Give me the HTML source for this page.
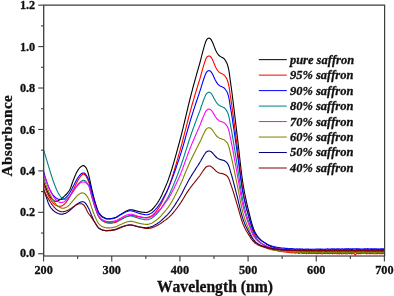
<!DOCTYPE html>
<html><head><meta charset="utf-8"><title>Absorbance vs Wavelength</title>
<style>
html,body{margin:0;padding:0;background:#fff;}
body{width:394px;height:296px;overflow:hidden;}
svg{display:block;font-family:"Liberation Serif","Times New Roman",serif;font-weight:bold;font-kerning:none;}
.curves path{fill:none;stroke-width:1.1;stroke-linejoin:round;}
.axes line{stroke:#3c3c3c;stroke-width:1.1;}
.tl text{font-size:12.25px;fill:#111;stroke:#111;stroke-width:0.3;}
.leg text{font-size:12.5px;font-style:italic;fill:#111;stroke:#111;stroke-width:0.3;}
.ttl{font-size:15.65px;fill:#111;stroke:#111;stroke-width:0.3;}
</style></head><body>
<svg width="394" height="296" viewBox="0 0 394 296">
<rect width="394" height="296" fill="#fff"/>
<g class="curves">
<path d="M43.6,182.0 L44.1,183.3 L44.6,184.6 L45.1,185.8 L45.6,187.0 L46.1,188.2 L46.6,189.5 L47.1,190.7 L47.6,191.9 L48.1,193.0 L48.6,194.1 L49.1,195.0 L49.6,195.8 L50.1,196.6 L50.6,197.4 L51.1,198.0 L51.6,198.6 L52.1,199.1 L52.6,199.5 L53.1,200.0 L53.6,200.4 L54.1,200.7 L54.6,201.0 L55.1,201.2 L55.6,201.3 L56.1,201.3 L56.6,201.2 L57.1,201.1 L57.6,200.9 L58.1,200.7 L58.6,200.5 L59.1,200.2 L59.6,199.9 L60.1,199.6 L60.6,199.3 L61.1,199.0 L61.6,198.6 L62.1,198.2 L62.6,197.7 L63.1,197.3 L63.6,196.8 L64.1,196.4 L64.6,195.9 L65.1,195.5 L65.6,195.0 L66.1,194.5 L66.6,194.0 L67.1,193.4 L67.6,192.8 L68.1,192.2 L68.6,191.5 L69.1,190.8 L69.6,190.0 L70.1,189.0 L70.6,187.8 L71.1,186.5 L71.6,185.0 L72.1,183.5 L72.6,182.1 L73.1,180.7 L73.6,179.5 L74.1,178.3 L74.6,177.0 L75.1,175.8 L75.6,174.7 L76.1,173.5 L76.6,172.5 L77.1,171.6 L77.6,170.7 L78.1,169.9 L78.6,169.2 L79.1,168.5 L79.6,167.9 L80.1,167.4 L80.6,167.0 L81.1,166.6 L81.6,166.2 L82.1,166.0 L82.6,165.8 L83.1,165.6 L83.6,165.6 L84.1,165.8 L84.6,166.2 L85.1,166.6 L85.6,167.2 L86.1,167.8 L86.6,168.7 L87.1,169.9 L87.6,171.3 L88.1,172.8 L88.6,174.7 L89.1,176.8 L89.6,179.0 L90.1,181.2 L90.6,183.5 L91.1,185.9 L91.6,188.2 L92.1,190.4 L92.6,192.5 L93.1,194.6 L93.6,196.6 L94.1,198.5 L94.6,200.3 L95.1,202.0 L95.6,203.6 L96.1,205.2 L96.6,206.8 L97.1,208.3 L97.6,209.7 L98.1,211.0 L98.6,212.1 L99.1,213.0 L99.6,213.6 L100.1,214.3 L100.6,214.9 L101.1,215.5 L101.6,216.0 L102.1,216.4 L102.6,216.8 L103.1,217.1 L103.6,217.3 L104.1,217.6 L104.6,217.8 L105.1,218.1 L105.6,218.3 L106.1,218.5 L106.6,218.6 L107.1,218.7 L107.6,218.7 L108.1,218.7 L108.6,218.7 L109.1,218.7 L109.6,218.7 L110.1,218.6 L110.6,218.6 L111.1,218.6 L111.6,218.5 L112.1,218.4 L112.6,218.3 L113.1,218.2 L113.6,218.1 L114.1,218.0 L114.6,217.8 L115.1,217.6 L115.6,217.5 L116.1,217.2 L116.6,217.0 L117.1,216.7 L117.6,216.4 L118.1,216.0 L118.6,215.7 L119.1,215.4 L119.6,215.0 L120.1,214.7 L120.6,214.4 L121.1,214.1 L121.6,213.8 L122.1,213.5 L122.6,213.2 L123.1,212.9 L123.6,212.6 L124.1,212.3 L124.6,212.0 L125.1,211.7 L125.6,211.4 L126.1,211.1 L126.6,210.9 L127.1,210.7 L127.6,210.5 L128.1,210.3 L128.6,210.1 L129.1,210.0 L129.6,209.8 L130.1,209.7 L130.6,209.7 L131.1,209.7 L131.6,209.8 L132.1,209.8 L132.6,209.9 L133.1,210.0 L133.6,210.1 L134.1,210.2 L134.6,210.4 L135.1,210.5 L135.6,210.7 L136.1,210.8 L136.6,211.0 L137.1,211.1 L137.6,211.3 L138.1,211.4 L138.6,211.5 L139.1,211.6 L139.6,211.7 L140.1,211.8 L140.6,211.9 L141.1,212.0 L141.6,212.1 L142.1,212.2 L142.6,212.2 L143.1,212.3 L143.6,212.3 L144.1,212.4 L144.6,212.4 L145.1,212.5 L145.6,212.5 L146.1,212.5 L146.6,212.5 L147.1,212.4 L147.6,212.2 L148.1,212.0 L148.6,211.8 L149.1,211.5 L149.6,211.2 L150.1,210.9 L150.6,210.7 L151.1,210.3 L151.6,210.0 L152.1,209.5 L152.6,209.0 L153.1,208.5 L153.6,207.9 L154.1,207.3 L154.6,206.7 L155.1,206.1 L155.6,205.5 L156.1,204.9 L156.6,204.2 L157.1,203.4 L157.6,202.7 L158.1,201.9 L158.6,201.1 L159.1,200.2 L159.6,199.4 L160.1,198.5 L160.6,197.5 L161.1,196.5 L161.6,195.5 L162.1,194.4 L162.6,193.3 L163.1,192.1 L163.6,191.0 L164.1,189.9 L164.6,188.8 L165.1,187.6 L165.6,186.5 L166.1,185.3 L166.6,184.1 L167.1,182.9 L167.6,181.6 L168.1,180.3 L168.6,178.9 L169.1,177.4 L169.6,176.0 L170.1,174.5 L170.6,172.9 L171.1,171.4 L171.6,169.8 L172.1,168.1 L172.6,166.5 L173.1,164.8 L173.6,163.1 L174.1,161.4 L174.6,159.7 L175.1,157.9 L175.6,156.1 L176.1,154.3 L176.6,152.5 L177.1,150.7 L177.6,148.9 L178.1,147.0 L178.6,145.2 L179.1,143.3 L179.6,141.5 L180.1,139.6 L180.6,137.7 L181.1,135.8 L181.6,133.8 L182.1,131.8 L182.6,129.8 L183.1,127.8 L183.6,125.7 L184.1,123.6 L184.6,121.5 L185.1,119.4 L185.6,117.3 L186.1,115.2 L186.6,113.1 L187.1,110.9 L187.6,108.8 L188.1,106.7 L188.6,104.7 L189.1,102.6 L189.6,100.6 L190.1,98.5 L190.6,96.6 L191.1,94.6 L191.6,92.7 L192.1,90.8 L192.6,88.9 L193.1,87.0 L193.6,85.2 L194.1,83.3 L194.6,81.5 L195.1,79.7 L195.6,77.9 L196.1,76.1 L196.6,74.3 L197.1,72.5 L197.6,70.8 L198.1,69.1 L198.6,67.3 L199.1,65.6 L199.6,63.8 L200.1,62.0 L200.6,60.1 L201.1,58.1 L201.6,56.2 L202.1,54.2 L202.6,52.3 L203.1,50.4 L203.6,48.6 L204.1,46.9 L204.6,45.2 L205.1,43.6 L205.6,42.0 L206.1,40.8 L206.6,39.9 L207.1,39.2 L207.6,38.7 L208.1,38.4 L208.6,38.2 L209.1,38.1 L209.6,38.3 L210.1,38.5 L210.6,39.0 L211.1,39.6 L211.6,40.4 L212.1,41.4 L212.6,42.5 L213.1,43.7 L213.6,44.9 L214.1,46.3 L214.6,47.6 L215.1,48.8 L215.6,50.0 L216.1,51.1 L216.6,52.1 L217.1,53.0 L217.6,53.7 L218.1,54.4 L218.6,55.0 L219.1,55.5 L219.6,56.0 L220.1,56.3 L220.6,56.6 L221.1,56.9 L221.6,57.2 L222.1,57.4 L222.6,57.7 L223.1,58.0 L223.6,58.3 L224.1,58.7 L224.6,59.2 L225.1,60.0 L225.6,60.9 L226.1,61.7 L226.6,62.6 L227.1,63.7 L227.6,65.1 L228.1,66.9 L228.6,69.1 L229.1,71.7 L229.6,75.3 L230.1,79.3 L230.6,82.9 L231.1,86.4 L231.6,90.0 L232.1,93.8 L232.6,97.7 L233.1,101.8 L233.6,105.8 L234.1,109.9 L234.6,114.0 L235.1,118.2 L235.6,122.3 L236.1,126.5 L236.6,130.7 L237.1,134.9 L237.6,139.2 L238.1,143.4 L238.6,147.8 L239.1,152.3 L239.6,156.8 L240.1,161.3 L240.6,165.7 L241.1,170.0 L241.6,174.0 L242.1,177.9 L242.6,181.4 L243.1,184.6 L243.6,187.6 L244.1,190.4 L244.6,193.0 L245.1,195.5 L245.6,197.9 L246.1,200.2 L246.6,202.5 L247.1,204.7 L247.6,206.9 L248.1,208.9 L248.6,211.0 L249.1,213.0 L249.6,215.0 L250.1,217.0 L250.6,219.0 L251.1,221.0 L251.6,222.8 L252.1,224.4 L252.6,226.0 L253.1,227.5 L253.6,228.9 L254.1,230.1 L254.6,231.2 L255.1,232.2 L255.6,233.1 L256.1,234.0 L256.6,234.8 L257.1,235.6 L257.6,236.3 L258.1,236.9 L258.6,237.5 L259.1,238.1 L259.6,238.7 L260.1,239.2 L260.6,239.7 L261.1,240.1 L261.6,240.6 L262.1,241.0 L262.6,241.3 L263.1,241.7 L263.6,242.1 L264.1,242.4 L264.6,242.8 L265.1,243.1 L265.6,243.5 L266.1,243.8 L266.6,244.2 L267.1,244.5 L267.6,244.8 L268.1,245.1 L268.6,245.4 L269.1,245.6 L269.6,245.9 L270.1,246.1 L270.6,246.4 L271.1,246.5 L271.6,246.7 L272.1,246.9 L272.6,247.1 L273.1,247.3 L273.6,247.4 L274.1,247.6 L274.6,247.8 L275.1,247.9 L275.6,248.0 L276.1,248.0 L276.6,248.2 L277.1,248.3 L277.6,248.4 L278.1,248.5 L278.6,248.6 L279.1,248.7 L279.6,249.0 L280.1,249.0 L280.6,249.1 L281.1,249.0 L281.6,249.1 L282.1,249.2 L282.6,249.3 L283.1,249.3 L283.6,249.7 L284.1,249.7 L284.6,249.6 L285.1,249.7 L285.6,250.0 L286.1,249.9 L286.6,249.9 L287.1,250.0 L287.6,250.0 L288.1,250.2 L288.6,250.3 L289.1,250.2 L289.6,250.4 L290.1,250.1 L290.6,250.4 L291.1,250.6 L291.6,250.2 L292.1,250.5 L292.6,250.6 L293.1,250.4 L293.6,250.8 L294.1,250.6 L294.6,250.6 L295.1,250.9 L295.6,250.5 L296.1,250.9 L296.6,250.6 L297.1,250.7 L297.6,250.8 L298.1,250.8 L298.6,250.6 L299.1,250.8 L299.6,250.8 L300.1,251.1 L300.6,251.1 L301.1,251.0 L301.6,251.2 L302.1,251.1 L302.6,250.9 L303.1,250.8 L303.6,251.1 L304.1,250.9 L304.6,250.8 L305.1,251.3 L305.6,251.3 L306.1,251.1 L306.6,251.2 L307.1,251.2 L307.6,251.4 L308.1,251.1 L308.6,251.2 L309.1,251.0 L309.6,251.1 L310.1,251.2 L310.6,251.1 L311.1,251.0 L311.6,251.2 L312.1,251.4 L312.6,251.2 L313.1,251.5 L313.6,251.4 L314.1,251.4 L314.6,251.5 L315.1,251.1 L315.6,251.1 L316.1,251.5 L316.6,251.5 L317.1,251.1 L317.6,251.4 L318.1,251.1 L318.6,251.1 L319.1,251.1 L319.6,251.2 L320.1,251.3 L320.6,251.5 L321.1,251.3 L321.6,251.1 L322.1,251.2 L322.6,251.1 L323.1,251.1 L323.6,251.3 L324.1,251.3 L324.6,251.2 L325.1,251.3 L325.6,251.1 L326.1,251.4 L326.6,251.3 L327.1,251.2 L327.6,251.3 L328.1,251.2 L328.6,251.2 L329.1,251.2 L329.6,251.5 L330.1,251.2 L330.6,251.6 L331.1,251.3 L331.6,251.2 L332.1,251.5 L332.6,251.5 L333.1,251.6 L333.6,251.2 L334.1,251.5 L334.6,251.6 L335.1,251.3 L335.6,251.4 L336.1,251.4 L336.6,251.3 L337.1,251.6 L337.6,251.5 L338.1,251.6 L338.6,251.4 L339.1,251.4 L339.6,251.2 L340.1,251.3 L340.6,251.5 L341.1,251.6 L341.6,251.2 L342.1,251.2 L342.6,251.2 L343.1,251.4 L343.6,251.5 L344.1,251.3 L344.6,251.4 L345.1,251.4 L345.6,251.6 L346.1,251.2 L346.6,251.2 L347.1,251.4 L347.6,251.3 L348.1,251.3 L348.6,251.5 L349.1,251.5 L349.6,251.2 L350.1,251.4 L350.6,251.5 L351.1,251.6 L351.6,251.2 L352.1,251.6 L352.6,251.2 L353.1,251.5 L353.6,251.5 L354.1,251.6 L354.6,252.0 L355.1,252.5 L355.6,252.3 L356.1,251.3 L356.6,251.6 L357.1,251.2 L357.6,251.3 L358.1,251.5 L358.6,251.2 L359.1,251.5 L359.6,251.5 L360.1,251.5 L360.6,251.6 L361.1,251.4 L361.6,251.2 L362.1,251.3 L362.6,251.3 L363.1,251.2 L363.6,251.5 L364.1,251.2 L364.6,251.2 L365.1,251.6 L365.6,251.6 L366.1,251.3 L366.6,251.3 L367.1,251.6 L367.6,251.5 L368.1,251.3 L368.6,251.4 L369.1,251.6 L369.6,251.2 L370.1,251.7 L370.6,251.4 L371.1,251.2 L371.6,251.6 L372.1,251.2 L372.6,251.4 L373.1,251.4 L373.6,251.3 L374.1,251.6 L374.6,251.5 L375.1,251.2 L375.6,251.2 L376.1,251.2 L376.6,251.4 L377.1,251.2 L377.6,251.4 L378.1,251.6 L378.6,251.6 L379.1,251.2 L379.6,251.3 L380.1,251.4 L380.6,251.3 L381.1,251.4 L381.6,251.4 L382.1,251.5 L382.6,251.3 L383.1,251.3 L383.6,251.3 L384.1,251.2" stroke="#000000"/>
<path d="M43.6,184.4 L44.1,185.7 L44.6,187.0 L45.1,188.3 L45.6,189.5 L46.1,190.7 L46.6,191.8 L47.1,192.9 L47.6,194.0 L48.1,195.0 L48.6,195.9 L49.1,196.9 L49.6,197.8 L50.1,198.6 L50.6,199.4 L51.1,200.2 L51.6,200.9 L52.1,201.6 L52.6,202.2 L53.1,202.8 L53.6,203.3 L54.1,203.8 L54.6,204.3 L55.1,204.7 L55.6,205.1 L56.1,205.4 L56.6,205.6 L57.1,205.9 L57.6,206.1 L58.1,206.2 L58.6,206.3 L59.1,206.4 L59.6,206.4 L60.1,206.3 L60.6,206.2 L61.1,206.1 L61.6,206.0 L62.1,205.8 L62.6,205.5 L63.1,205.1 L63.6,204.8 L64.1,204.4 L64.6,204.0 L65.1,203.4 L65.6,202.9 L66.1,202.3 L66.6,201.7 L67.1,201.0 L67.6,200.2 L68.1,199.4 L68.6,198.6 L69.1,197.8 L69.6,196.9 L70.1,196.0 L70.6,195.0 L71.1,194.1 L71.6,193.1 L72.1,192.1 L72.6,191.1 L73.1,190.1 L73.6,189.1 L74.1,188.0 L74.6,187.0 L75.1,186.0 L75.6,184.9 L76.1,184.0 L76.6,183.0 L77.1,182.0 L77.6,181.0 L78.1,180.1 L78.6,179.3 L79.1,178.5 L79.6,177.7 L80.1,177.0 L80.6,176.3 L81.1,175.7 L81.6,175.3 L82.1,174.8 L82.6,174.5 L83.1,174.3 L83.6,174.2 L84.1,174.3 L84.6,174.5 L85.1,175.0 L85.6,175.6 L86.1,176.3 L86.6,177.2 L87.1,178.2 L87.6,179.3 L88.1,180.5 L88.6,181.7 L89.1,183.0 L89.6,185.2 L90.1,187.3 L90.6,189.5 L91.1,191.7 L91.6,193.9 L92.1,196.0 L92.6,197.9 L93.1,199.9 L93.6,201.7 L94.1,203.5 L94.6,205.2 L95.1,206.8 L95.6,208.3 L96.1,209.9 L96.6,211.3 L97.1,212.8 L97.6,214.1 L98.1,215.3 L98.6,216.3 L99.1,217.1 L99.6,217.8 L100.1,218.5 L100.6,219.0 L101.1,219.6 L101.6,220.1 L102.1,220.5 L102.6,220.9 L103.1,221.2 L103.6,221.5 L104.1,221.7 L104.6,222.0 L105.1,222.2 L105.6,222.5 L106.1,222.7 L106.6,222.8 L107.1,222.9 L107.6,223.0 L108.1,223.0 L108.6,223.1 L109.1,223.1 L109.6,223.1 L110.1,223.1 L110.6,223.1 L111.1,223.1 L111.6,223.1 L112.1,223.0 L112.6,223.0 L113.1,222.9 L113.6,222.8 L114.1,222.7 L114.6,222.6 L115.1,222.5 L115.6,222.3 L116.1,222.2 L116.6,222.0 L117.1,221.7 L117.6,221.5 L118.1,221.2 L118.6,220.9 L119.1,220.6 L119.6,220.3 L120.1,220.1 L120.6,219.8 L121.1,219.5 L121.6,219.3 L122.1,219.0 L122.6,218.7 L123.1,218.4 L123.6,218.2 L124.1,217.9 L124.6,217.6 L125.1,217.4 L125.6,217.1 L126.1,216.9 L126.6,216.6 L127.1,216.4 L127.6,216.2 L128.1,216.1 L128.6,215.9 L129.1,215.7 L129.6,215.6 L130.1,215.5 L130.6,215.5 L131.1,215.4 L131.6,215.5 L132.1,215.5 L132.6,215.6 L133.1,215.6 L133.6,215.7 L134.1,215.8 L134.6,215.9 L135.1,216.0 L135.6,216.1 L136.1,216.2 L136.6,216.4 L137.1,216.5 L137.6,216.6 L138.1,216.7 L138.6,216.8 L139.1,216.8 L139.6,216.9 L140.1,217.0 L140.6,217.1 L141.1,217.2 L141.6,217.2 L142.1,217.3 L142.6,217.3 L143.1,217.4 L143.6,217.5 L144.1,217.5 L144.6,217.5 L145.1,217.6 L145.6,217.6 L146.1,217.6 L146.6,217.6 L147.1,217.5 L147.6,217.4 L148.1,217.3 L148.6,217.1 L149.1,216.9 L149.6,216.7 L150.1,216.4 L150.6,216.2 L151.1,216.0 L151.6,215.7 L152.1,215.4 L152.6,215.0 L153.1,214.6 L153.6,214.1 L154.1,213.6 L154.6,213.1 L155.1,212.6 L155.6,212.0 L156.1,211.4 L156.6,210.8 L157.1,210.2 L157.6,209.5 L158.1,208.8 L158.6,208.1 L159.1,207.3 L159.6,206.5 L160.1,205.7 L160.6,204.8 L161.1,203.9 L161.6,203.0 L162.1,202.0 L162.6,200.9 L163.1,199.9 L163.6,198.9 L164.1,197.8 L164.6,196.8 L165.1,195.7 L165.6,194.6 L166.1,193.5 L166.6,192.4 L167.1,191.3 L167.6,190.0 L168.1,188.8 L168.6,187.5 L169.1,186.1 L169.6,184.7 L170.1,183.3 L170.6,181.8 L171.1,180.3 L171.6,178.8 L172.1,177.3 L172.6,175.7 L173.1,174.1 L173.6,172.5 L174.1,170.9 L174.6,169.2 L175.1,167.5 L175.6,165.8 L176.1,164.1 L176.6,162.4 L177.1,160.7 L177.6,158.9 L178.1,157.2 L178.6,155.4 L179.1,153.7 L179.6,151.9 L180.1,150.1 L180.6,148.3 L181.1,146.5 L181.6,144.7 L182.1,142.8 L182.6,140.9 L183.1,139.0 L183.6,137.1 L184.1,135.1 L184.6,133.2 L185.1,131.3 L185.6,129.3 L186.1,127.3 L186.6,125.4 L187.1,123.4 L187.6,121.5 L188.1,119.5 L188.6,117.6 L189.1,115.7 L189.6,113.8 L190.1,111.9 L190.6,110.1 L191.1,108.3 L191.6,106.5 L192.1,104.7 L192.6,103.0 L193.1,101.3 L193.6,99.6 L194.1,97.9 L194.6,96.2 L195.1,94.5 L195.6,92.8 L196.1,91.1 L196.6,89.5 L197.1,87.8 L197.6,86.2 L198.1,84.6 L198.6,83.0 L199.1,81.4 L199.6,79.8 L200.1,78.1 L200.6,76.3 L201.1,74.5 L201.6,72.7 L202.1,70.9 L202.6,69.1 L203.1,67.4 L203.6,65.7 L204.1,64.1 L204.6,62.5 L205.1,61.0 L205.6,59.6 L206.1,58.5 L206.6,57.6 L207.1,56.9 L207.6,56.5 L208.1,56.2 L208.6,56.0 L209.1,56.0 L209.6,56.1 L210.1,56.3 L210.6,56.7 L211.1,57.3 L211.6,58.1 L212.1,59.0 L212.6,60.0 L213.1,61.1 L213.6,62.3 L214.1,63.5 L214.6,64.7 L215.1,65.9 L215.6,67.0 L216.1,68.0 L216.6,68.9 L217.1,69.7 L217.6,70.4 L218.1,71.0 L218.6,71.6 L219.1,72.1 L219.6,72.5 L220.1,72.8 L220.6,73.1 L221.1,73.4 L221.6,73.6 L222.1,73.8 L222.6,74.1 L223.1,74.4 L223.6,74.7 L224.1,75.1 L224.6,75.5 L225.1,76.2 L225.6,77.0 L226.1,77.8 L226.6,78.6 L227.1,79.6 L227.6,81.0 L228.1,82.6 L228.6,84.7 L229.1,87.2 L229.6,90.4 L230.1,94.1 L230.6,97.4 L231.1,100.7 L231.6,104.0 L232.1,107.5 L232.6,111.2 L233.1,114.9 L233.6,118.7 L234.1,122.4 L234.6,126.3 L235.1,130.1 L235.6,134.0 L236.1,137.8 L236.6,141.7 L237.1,145.6 L237.6,149.5 L238.1,153.5 L238.6,157.6 L239.1,161.7 L239.6,165.9 L240.1,170.1 L240.6,174.2 L241.1,178.1 L241.6,181.9 L242.1,185.4 L242.6,188.6 L243.1,191.6 L243.6,194.4 L244.1,197.0 L244.6,199.4 L245.1,201.7 L245.6,204.0 L246.1,206.1 L246.6,208.2 L247.1,210.3 L247.6,212.2 L248.1,214.2 L248.6,216.1 L249.1,218.0 L249.6,219.8 L250.1,221.7 L250.6,223.5 L251.1,225.3 L251.6,227.0 L252.1,228.5 L252.6,230.0 L253.1,231.4 L253.6,232.6 L254.1,233.8 L254.6,234.8 L255.1,235.7 L255.6,236.6 L256.1,237.4 L256.6,238.2 L257.1,238.9 L257.6,239.5 L258.1,240.1 L258.6,240.7 L259.1,241.2 L259.6,241.7 L260.1,242.2 L260.6,242.7 L261.1,243.1 L261.6,243.5 L262.1,243.8 L262.6,244.2 L263.1,244.5 L263.6,244.9 L264.1,245.2 L264.6,245.5 L265.1,245.9 L265.6,246.2 L266.1,246.5 L266.6,246.8 L267.1,247.1 L267.6,247.4 L268.1,247.7 L268.6,248.0 L269.1,248.2 L269.6,248.5 L270.1,248.7 L270.6,248.8 L271.1,248.9 L271.6,249.2 L272.1,249.4 L272.6,249.4 L273.1,249.8 L273.6,249.9 L274.1,249.9 L274.6,250.1 L275.1,250.2 L275.6,250.2 L276.1,250.4 L276.6,250.5 L277.1,250.5 L277.6,250.6 L278.1,251.0 L278.6,251.1 L279.1,251.2 L279.6,251.0 L280.1,251.3 L280.6,251.1 L281.1,251.6 L281.6,251.2 L282.1,251.6 L282.6,251.4 L283.1,251.8 L283.6,251.5 L284.1,252.0 L284.6,252.0 L285.1,252.0 L285.6,251.9 L286.1,252.1 L286.6,252.4 L287.1,252.1 L287.6,252.0 L288.1,252.5 L288.6,252.5 L289.1,252.5 L289.6,252.5 L290.1,252.2 L290.6,252.7 L291.1,252.7 L291.6,252.9 L292.1,252.7 L292.6,252.8 L293.1,252.6 L293.6,252.6 L294.1,252.7 L294.6,252.8 L295.1,253.3 L295.6,252.7 L296.1,252.6 L296.6,252.6 L297.1,253.2 L297.6,252.6 L298.1,252.6 L298.6,253.4 L299.1,253.4 L299.6,253.3 L300.1,252.8 L300.6,252.8 L301.1,253.2 L301.6,252.7 L302.1,253.1 L302.6,253.5 L303.1,253.2 L303.6,253.0 L304.1,253.5 L304.6,252.8 L305.1,253.3 L305.6,253.3 L306.1,253.6 L306.6,253.6 L307.1,253.0 L307.6,253.2 L308.1,253.1 L308.6,253.6 L309.1,253.3 L309.6,253.5 L310.1,253.0 L310.6,253.2 L311.1,253.6 L311.6,252.9 L312.1,253.2 L312.6,253.0 L313.1,253.6 L313.6,253.0 L314.1,253.1 L314.6,253.4 L315.1,253.6 L315.6,253.2 L316.1,253.7 L316.6,253.8 L317.1,253.7 L317.6,253.0 L318.1,253.6 L318.6,253.3 L319.1,253.6 L319.6,253.4 L320.1,253.6 L320.6,253.2 L321.1,253.7 L321.6,253.7 L322.1,253.8 L322.6,253.9 L323.1,253.4 L323.6,253.4 L324.1,253.4 L324.6,253.2 L325.1,253.5 L325.6,253.7 L326.1,253.0 L326.6,253.2 L327.1,253.5 L327.6,253.6 L328.1,253.4 L328.6,253.5 L329.1,253.7 L329.6,253.8 L330.1,253.3 L330.6,253.5 L331.1,253.4 L331.6,253.2 L332.1,253.3 L332.6,253.9 L333.1,253.3 L333.6,253.1 L334.1,253.5 L334.6,253.7 L335.1,253.3 L335.6,253.1 L336.1,253.5 L336.6,253.8 L337.1,253.7 L337.6,253.4 L338.1,253.8 L338.6,253.7 L339.1,253.3 L339.6,253.9 L340.1,253.4 L340.6,253.4 L341.1,253.3 L341.6,253.9 L342.1,253.7 L342.6,253.7 L343.1,253.6 L343.6,253.7 L344.1,253.1 L344.6,253.4 L345.1,253.8 L345.6,253.9 L346.1,253.5 L346.6,253.7 L347.1,253.9 L347.6,253.6 L348.1,253.6 L348.6,253.4 L349.1,253.3 L349.6,253.7 L350.1,253.5 L350.6,253.1 L351.1,253.3 L351.6,253.9 L352.1,253.7 L352.6,253.6 L353.1,253.3 L353.6,253.1 L354.1,253.7 L354.6,254.1 L355.1,255.9 L355.6,255.2 L356.1,253.8 L356.6,253.4 L357.1,253.4 L357.6,253.4 L358.1,253.7 L358.6,253.5 L359.1,253.8 L359.6,253.4 L360.1,253.4 L360.6,253.7 L361.1,253.6 L361.6,253.1 L362.1,253.4 L362.6,253.3 L363.1,253.1 L363.6,253.1 L364.1,253.5 L364.6,253.2 L365.1,253.3 L365.6,253.2 L366.1,253.5 L366.6,253.9 L367.1,253.4 L367.6,253.2 L368.1,253.6 L368.6,253.1 L369.1,253.1 L369.6,253.7 L370.1,253.6 L370.6,253.6 L371.1,253.4 L371.6,253.3 L372.1,253.8 L372.6,253.6 L373.1,253.4 L373.6,253.7 L374.1,253.7 L374.6,253.7 L375.1,253.7 L375.6,253.8 L376.1,253.5 L376.6,253.6 L377.1,253.8 L377.6,253.6 L378.1,253.5 L378.6,253.2 L379.1,253.5 L379.6,253.7 L380.1,253.6 L380.6,253.8 L381.1,253.8 L381.6,253.4 L382.1,253.7 L382.6,253.1 L383.1,253.6 L383.6,253.1 L384.1,253.9" stroke="#ff0000"/>
<path d="M43.6,171.4 L44.1,173.2 L44.6,175.0 L45.1,176.8 L45.6,178.4 L46.1,180.0 L46.6,181.5 L47.1,182.9 L47.6,184.3 L48.1,185.6 L48.6,186.8 L49.1,187.9 L49.6,189.0 L50.1,190.1 L50.6,191.0 L51.1,191.9 L51.6,192.8 L52.1,193.6 L52.6,194.3 L53.1,195.0 L53.6,195.6 L54.1,196.2 L54.6,196.7 L55.1,197.2 L55.6,197.6 L56.1,198.0 L56.6,198.3 L57.1,198.6 L57.6,198.9 L58.1,199.1 L58.6,199.2 L59.1,199.3 L59.6,199.4 L60.1,199.4 L60.6,199.5 L61.1,199.5 L61.6,199.4 L62.1,199.3 L62.6,199.2 L63.1,199.0 L63.6,198.9 L64.1,198.7 L64.6,198.4 L65.1,198.1 L65.6,197.8 L66.1,197.4 L66.6,197.0 L67.1,196.4 L67.6,195.9 L68.1,195.2 L68.6,194.6 L69.1,193.8 L69.6,193.0 L70.1,192.2 L70.6,191.3 L71.1,190.4 L71.6,189.5 L72.1,188.6 L72.6,187.6 L73.1,186.6 L73.6,185.6 L74.1,184.7 L74.6,183.7 L75.1,182.7 L75.6,181.7 L76.1,180.8 L76.6,179.9 L77.1,179.0 L77.6,178.2 L78.1,177.4 L78.6,176.7 L79.1,176.0 L79.6,175.4 L80.1,174.8 L80.6,174.3 L81.1,173.8 L81.6,173.5 L82.1,173.2 L82.6,173.1 L83.1,173.0 L83.6,173.0 L84.1,173.1 L84.6,173.3 L85.1,173.7 L85.6,174.3 L86.1,174.9 L86.6,175.7 L87.1,176.5 L87.6,177.5 L88.1,178.5 L88.6,179.5 L89.1,180.7 L89.6,182.7 L90.1,184.7 L90.6,186.8 L91.1,188.9 L91.6,191.0 L92.1,193.0 L92.6,194.9 L93.1,196.8 L93.6,198.6 L94.1,200.4 L94.6,202.0 L95.1,203.6 L95.6,205.1 L96.1,206.6 L96.6,208.0 L97.1,209.5 L97.6,210.8 L98.1,212.0 L98.6,213.0 L99.1,213.8 L99.6,214.5 L100.1,215.0 L100.6,215.6 L101.1,216.1 L101.6,216.6 L102.1,217.0 L102.6,217.3 L103.1,217.6 L103.6,217.8 L104.1,218.0 L104.6,218.3 L105.1,218.5 L105.6,218.7 L106.1,218.8 L106.6,219.0 L107.1,219.0 L107.6,219.0 L108.1,219.0 L108.6,219.0 L109.1,219.0 L109.6,219.0 L110.1,218.9 L110.6,218.9 L111.1,218.8 L111.6,218.7 L112.1,218.7 L112.6,218.6 L113.1,218.5 L113.6,218.3 L114.1,218.2 L114.6,218.1 L115.1,217.9 L115.6,217.7 L116.1,217.5 L116.6,217.3 L117.1,217.0 L117.6,216.7 L118.1,216.4 L118.6,216.1 L119.1,215.7 L119.6,215.4 L120.1,215.1 L120.6,214.8 L121.1,214.6 L121.6,214.3 L122.1,214.0 L122.6,213.7 L123.1,213.4 L123.6,213.1 L124.1,212.9 L124.6,212.6 L125.1,212.4 L125.6,212.1 L126.1,211.9 L126.6,211.6 L127.1,211.4 L127.6,211.3 L128.1,211.1 L128.6,211.0 L129.1,210.9 L129.6,210.8 L130.1,210.8 L130.6,210.8 L131.1,210.8 L131.6,210.9 L132.1,211.0 L132.6,211.1 L133.1,211.2 L133.6,211.4 L134.1,211.5 L134.6,211.7 L135.1,211.9 L135.6,212.1 L136.1,212.3 L136.6,212.5 L137.1,212.7 L137.6,212.8 L138.1,213.0 L138.6,213.2 L139.1,213.3 L139.6,213.5 L140.1,213.6 L140.6,213.7 L141.1,213.9 L141.6,214.0 L142.1,214.1 L142.6,214.2 L143.1,214.3 L143.6,214.4 L144.1,214.5 L144.6,214.6 L145.1,214.7 L145.6,214.8 L146.1,214.8 L146.6,214.8 L147.1,214.8 L147.6,214.7 L148.1,214.5 L148.6,214.4 L149.1,214.2 L149.6,214.0 L150.1,213.7 L150.6,213.5 L151.1,213.3 L151.6,213.0 L152.1,212.6 L152.6,212.2 L153.1,211.7 L153.6,211.3 L154.1,210.8 L154.6,210.3 L155.1,209.8 L155.6,209.3 L156.1,208.7 L156.6,208.2 L157.1,207.6 L157.6,206.9 L158.1,206.3 L158.6,205.6 L159.1,204.9 L159.6,204.2 L160.1,203.4 L160.6,202.7 L161.1,201.8 L161.6,201.0 L162.1,200.1 L162.6,199.2 L163.1,198.2 L163.6,197.3 L164.1,196.4 L164.6,195.5 L165.1,194.6 L165.6,193.6 L166.1,192.7 L166.6,191.7 L167.1,190.7 L167.6,189.7 L168.1,188.6 L168.6,187.5 L169.1,186.3 L169.6,185.1 L170.1,183.9 L170.6,182.7 L171.1,181.4 L171.6,180.1 L172.1,178.8 L172.6,177.5 L173.1,176.1 L173.6,174.7 L174.1,173.4 L174.6,172.0 L175.1,170.5 L175.6,169.1 L176.1,167.7 L176.6,166.2 L177.1,164.7 L177.6,163.2 L178.1,161.8 L178.6,160.3 L179.1,158.8 L179.6,157.2 L180.1,155.7 L180.6,154.2 L181.1,152.6 L181.6,151.0 L182.1,149.4 L182.6,147.7 L183.1,146.0 L183.6,144.3 L184.1,142.5 L184.6,140.8 L185.1,139.0 L185.6,137.2 L186.1,135.4 L186.6,133.6 L187.1,131.8 L187.6,130.1 L188.1,128.3 L188.6,126.6 L189.1,124.8 L189.6,123.1 L190.1,121.4 L190.6,119.8 L191.1,118.1 L191.6,116.5 L192.1,114.9 L192.6,113.3 L193.1,111.8 L193.6,110.2 L194.1,108.7 L194.6,107.1 L195.1,105.6 L195.6,104.1 L196.1,102.5 L196.6,101.0 L197.1,99.6 L197.6,98.1 L198.1,96.6 L198.6,95.2 L199.1,93.7 L199.6,92.2 L200.1,90.7 L200.6,89.1 L201.1,87.5 L201.6,85.8 L202.1,84.2 L202.6,82.6 L203.1,81.0 L203.6,79.5 L204.1,78.0 L204.6,76.6 L205.1,75.2 L205.6,73.9 L206.1,72.9 L206.6,72.1 L207.1,71.5 L207.6,71.1 L208.1,70.8 L208.6,70.7 L209.1,70.6 L209.6,70.8 L210.1,71.0 L210.6,71.3 L211.1,71.9 L211.6,72.6 L212.1,73.4 L212.6,74.3 L213.1,75.3 L213.6,76.4 L214.1,77.5 L214.6,78.6 L215.1,79.7 L215.6,80.6 L216.1,81.5 L216.6,82.4 L217.1,83.2 L217.6,83.8 L218.1,84.3 L218.6,84.8 L219.1,85.3 L219.6,85.6 L220.1,86.0 L220.6,86.2 L221.1,86.4 L221.6,86.6 L222.1,86.9 L222.6,87.1 L223.1,87.4 L223.6,87.6 L224.1,88.0 L224.6,88.4 L225.1,89.0 L225.6,89.8 L226.1,90.5 L226.6,91.2 L227.1,92.1 L227.6,93.3 L228.1,94.9 L228.6,96.7 L229.1,99.0 L229.6,101.9 L230.1,105.3 L230.6,108.3 L231.1,111.2 L231.6,114.2 L232.1,117.4 L232.6,120.8 L233.1,124.1 L233.6,127.5 L234.1,131.0 L234.6,134.4 L235.1,137.9 L235.6,141.4 L236.1,145.0 L236.6,148.5 L237.1,152.0 L237.6,155.6 L238.1,159.1 L238.6,162.8 L239.1,166.6 L239.6,170.4 L240.1,174.2 L240.6,177.9 L241.1,181.5 L241.6,184.9 L242.1,188.1 L242.6,191.0 L243.1,193.7 L243.6,196.2 L244.1,198.6 L244.6,200.8 L245.1,202.9 L245.6,204.9 L246.1,206.9 L246.6,208.8 L247.1,210.6 L247.6,212.5 L248.1,214.2 L248.6,215.9 L249.1,217.6 L249.6,219.3 L250.1,221.0 L250.6,222.7 L251.1,224.3 L251.6,225.8 L252.1,227.2 L252.6,228.6 L253.1,229.8 L253.6,231.0 L254.1,232.0 L254.6,232.9 L255.1,233.8 L255.6,234.5 L256.1,235.3 L256.6,236.0 L257.1,236.6 L257.6,237.2 L258.1,237.7 L258.6,238.2 L259.1,238.7 L259.6,239.2 L260.1,239.7 L260.6,240.1 L261.1,240.4 L261.6,240.8 L262.1,241.1 L262.6,241.4 L263.1,241.7 L263.6,242.0 L264.1,242.3 L264.6,242.6 L265.1,242.9 L265.6,243.2 L266.1,243.5 L266.6,243.8 L267.1,244.1 L267.6,244.4 L268.1,244.6 L268.6,244.9 L269.1,245.1 L269.6,245.3 L270.1,245.4 L270.6,245.6 L271.1,245.8 L271.6,246.0 L272.1,246.2 L272.6,246.3 L273.1,246.4 L273.6,246.5 L274.1,246.7 L274.6,246.8 L275.1,247.0 L275.6,246.9 L276.1,247.1 L276.6,247.3 L277.1,247.3 L277.6,247.5 L278.1,247.5 L278.6,247.5 L279.1,247.6 L279.6,247.6 L280.1,247.9 L280.6,247.8 L281.1,248.1 L281.6,248.2 L282.1,248.0 L282.6,248.0 L283.1,248.1 L283.6,248.3 L284.1,248.1 L284.6,248.3 L285.1,248.5 L285.6,248.3 L286.1,248.6 L286.6,248.4 L287.1,248.3 L287.6,248.7 L288.1,248.8 L288.6,248.9 L289.1,248.5 L289.6,248.8 L290.1,248.6 L290.6,249.0 L291.1,248.6 L291.6,248.6 L292.1,248.6 L292.6,248.8 L293.1,249.2 L293.6,248.8 L294.1,249.0 L294.6,248.9 L295.1,249.3 L295.6,249.1 L296.1,249.2 L296.6,248.8 L297.1,249.3 L297.6,248.9 L298.1,249.2 L298.6,249.0 L299.1,249.2 L299.6,248.8 L300.1,249.1 L300.6,249.4 L301.1,248.9 L301.6,249.1 L302.1,249.4 L302.6,248.9 L303.1,249.4 L303.6,249.4 L304.1,249.3 L304.6,249.4 L305.1,249.1 L305.6,249.1 L306.1,249.2 L306.6,249.1 L307.1,249.1 L307.6,249.0 L308.1,249.1 L308.6,249.0 L309.1,249.4 L309.6,249.3 L310.1,249.5 L310.6,249.2 L311.1,249.1 L311.6,249.4 L312.1,249.1 L312.6,249.2 L313.1,249.3 L313.6,249.3 L314.1,249.2 L314.6,249.3 L315.1,249.1 L315.6,249.2 L316.1,249.1 L316.6,249.0 L317.1,249.0 L317.6,249.0 L318.1,249.1 L318.6,249.3 L319.1,249.1 L319.6,249.4 L320.1,248.9 L320.6,249.4 L321.1,249.2 L321.6,249.1 L322.1,248.9 L322.6,249.2 L323.1,249.2 L323.6,249.3 L324.1,249.4 L324.6,249.1 L325.1,249.4 L325.6,249.4 L326.1,248.9 L326.6,249.1 L327.1,249.2 L327.6,248.8 L328.1,248.9 L328.6,249.2 L329.1,249.0 L329.6,249.3 L330.1,249.4 L330.6,249.1 L331.1,248.8 L331.6,248.8 L332.1,249.1 L332.6,249.2 L333.1,248.7 L333.6,249.1 L334.1,249.0 L334.6,248.8 L335.1,248.8 L335.6,249.3 L336.1,249.3 L336.6,248.9 L337.1,248.9 L337.6,248.8 L338.1,248.8 L338.6,248.9 L339.1,249.1 L339.6,248.9 L340.1,249.0 L340.6,249.0 L341.1,249.0 L341.6,249.0 L342.1,248.6 L342.6,249.0 L343.1,249.0 L343.6,249.2 L344.1,248.9 L344.6,249.0 L345.1,248.9 L345.6,248.7 L346.1,248.7 L346.6,248.7 L347.1,248.8 L347.6,248.9 L348.1,248.7 L348.6,248.6 L349.1,249.1 L349.6,249.2 L350.1,248.8 L350.6,248.9 L351.1,249.2 L351.6,248.9 L352.1,248.9 L352.6,248.7 L353.1,248.9 L353.6,249.0 L354.1,248.8 L354.6,248.9 L355.1,248.7 L355.6,249.0 L356.1,249.0 L356.6,248.6 L357.1,248.9 L357.6,248.7 L358.1,249.2 L358.6,248.9 L359.1,248.9 L359.6,248.9 L360.1,249.2 L360.6,249.0 L361.1,249.1 L361.6,249.0 L362.1,248.9 L362.6,249.1 L363.1,249.1 L363.6,249.0 L364.1,248.9 L364.6,248.9 L365.1,248.9 L365.6,248.7 L366.1,248.8 L366.6,249.1 L367.1,249.2 L367.6,248.6 L368.1,248.6 L368.6,249.2 L369.1,249.1 L369.6,248.9 L370.1,249.2 L370.6,248.8 L371.1,248.8 L371.6,249.2 L372.1,248.8 L372.6,249.2 L373.1,248.7 L373.6,249.0 L374.1,249.0 L374.6,248.7 L375.1,248.7 L375.6,248.9 L376.1,248.9 L376.6,248.8 L377.1,249.0 L377.6,249.2 L378.1,249.1 L378.6,248.7 L379.1,248.9 L379.6,249.2 L380.1,248.9 L380.6,249.1 L381.1,248.7 L381.6,249.0 L382.1,248.7 L382.6,249.2 L383.1,248.9 L383.6,248.9 L384.1,248.7" stroke="#0000ff"/>
<path d="M43.6,149.9 L44.1,151.5 L44.6,153.1 L45.1,154.8 L45.6,156.4 L46.1,158.1 L46.6,159.7 L47.1,161.4 L47.6,163.1 L48.1,164.8 L48.6,166.4 L49.1,168.1 L49.6,169.7 L50.1,171.3 L50.6,172.9 L51.1,174.5 L51.6,176.1 L52.1,177.6 L52.6,179.1 L53.1,180.6 L53.6,182.0 L54.1,183.4 L54.6,184.8 L55.1,186.1 L55.6,187.3 L56.1,188.5 L56.6,189.7 L57.1,190.7 L57.6,191.8 L58.1,192.8 L58.6,193.6 L59.1,194.4 L59.6,195.2 L60.1,196.0 L60.6,196.6 L61.1,197.1 L61.6,197.6 L62.1,198.1 L62.6,198.5 L63.1,198.8 L63.6,199.0 L64.1,199.1 L64.6,199.2 L65.1,199.2 L65.6,199.2 L66.1,199.1 L66.6,198.9 L67.1,198.6 L67.6,198.2 L68.1,197.8 L68.6,197.4 L69.1,196.9 L69.6,196.4 L70.1,195.8 L70.6,195.1 L71.1,194.5 L71.6,193.8 L72.1,193.1 L72.6,192.3 L73.1,191.6 L73.6,190.8 L74.1,190.1 L74.6,189.3 L75.1,188.5 L75.6,187.8 L76.1,187.0 L76.6,186.3 L77.1,185.6 L77.6,184.9 L78.1,184.3 L78.6,183.7 L79.1,183.1 L79.6,182.6 L80.1,182.1 L80.6,181.6 L81.1,181.2 L81.6,180.9 L82.1,180.7 L82.6,180.5 L83.1,180.4 L83.6,180.3 L84.1,180.3 L84.6,180.5 L85.1,180.8 L85.6,181.2 L86.1,181.7 L86.6,182.3 L87.1,183.0 L87.6,183.7 L88.1,184.6 L88.6,185.5 L89.1,186.4 L89.6,188.3 L90.1,190.2 L90.6,192.1 L91.1,194.1 L91.6,196.0 L92.1,197.9 L92.6,199.6 L93.1,201.4 L93.6,203.1 L94.1,204.7 L94.6,206.3 L95.1,207.7 L95.6,209.1 L96.1,210.5 L96.6,211.9 L97.1,213.2 L97.6,214.4 L98.1,215.5 L98.6,216.5 L99.1,217.2 L99.6,217.8 L100.1,218.4 L100.6,218.9 L101.1,219.4 L101.6,219.9 L102.1,220.3 L102.6,220.6 L103.1,220.9 L103.6,221.1 L104.1,221.3 L104.6,221.5 L105.1,221.7 L105.6,221.9 L106.1,222.1 L106.6,222.2 L107.1,222.3 L107.6,222.3 L108.1,222.4 L108.6,222.4 L109.1,222.4 L109.6,222.4 L110.1,222.3 L110.6,222.3 L111.1,222.3 L111.6,222.3 L112.1,222.2 L112.6,222.1 L113.1,222.1 L113.6,222.0 L114.1,221.9 L114.6,221.8 L115.1,221.7 L115.6,221.5 L116.1,221.4 L116.6,221.2 L117.1,220.9 L117.6,220.7 L118.1,220.4 L118.6,220.1 L119.1,219.9 L119.6,219.6 L120.1,219.4 L120.6,219.2 L121.1,218.9 L121.6,218.7 L122.1,218.4 L122.6,218.2 L123.1,218.0 L123.6,217.8 L124.1,217.5 L124.6,217.3 L125.1,217.1 L125.6,216.9 L126.1,216.7 L126.6,216.6 L127.1,216.4 L127.6,216.3 L128.1,216.2 L128.6,216.1 L129.1,216.0 L129.6,215.9 L130.1,215.9 L130.6,215.9 L131.1,216.0 L131.6,216.0 L132.1,216.2 L132.6,216.3 L133.1,216.4 L133.6,216.6 L134.1,216.7 L134.6,216.9 L135.1,217.1 L135.6,217.2 L136.1,217.4 L136.6,217.6 L137.1,217.8 L137.6,217.9 L138.1,218.1 L138.6,218.2 L139.1,218.4 L139.6,218.5 L140.1,218.7 L140.6,218.8 L141.1,218.9 L141.6,219.0 L142.1,219.1 L142.6,219.2 L143.1,219.3 L143.6,219.4 L144.1,219.5 L144.6,219.6 L145.1,219.7 L145.6,219.7 L146.1,219.8 L146.6,219.8 L147.1,219.8 L147.6,219.7 L148.1,219.6 L148.6,219.4 L149.1,219.3 L149.6,219.1 L150.1,218.9 L150.6,218.7 L151.1,218.5 L151.6,218.2 L152.1,217.9 L152.6,217.5 L153.1,217.1 L153.6,216.7 L154.1,216.3 L154.6,215.9 L155.1,215.4 L155.6,215.0 L156.1,214.5 L156.6,214.0 L157.1,213.5 L157.6,212.9 L158.1,212.4 L158.6,211.8 L159.1,211.2 L159.6,210.5 L160.1,209.9 L160.6,209.2 L161.1,208.5 L161.6,207.7 L162.1,206.9 L162.6,206.1 L163.1,205.3 L163.6,204.5 L164.1,203.7 L164.6,202.9 L165.1,202.1 L165.6,201.3 L166.1,200.5 L166.6,199.7 L167.1,198.8 L167.6,197.9 L168.1,196.9 L168.6,195.9 L169.1,194.9 L169.6,193.9 L170.1,192.8 L170.6,191.7 L171.1,190.6 L171.6,189.5 L172.1,188.3 L172.6,187.1 L173.1,185.9 L173.6,184.7 L174.1,183.5 L174.6,182.3 L175.1,181.0 L175.6,179.8 L176.1,178.5 L176.6,177.2 L177.1,175.9 L177.6,174.6 L178.1,173.3 L178.6,172.0 L179.1,170.6 L179.6,169.3 L180.1,167.9 L180.6,166.6 L181.1,165.2 L181.6,163.7 L182.1,162.2 L182.6,160.8 L183.1,159.2 L183.6,157.7 L184.1,156.1 L184.6,154.6 L185.1,153.0 L185.6,151.4 L186.1,149.8 L186.6,148.3 L187.1,146.7 L187.6,145.1 L188.1,143.5 L188.6,142.0 L189.1,140.4 L189.6,138.9 L190.1,137.4 L190.6,135.9 L191.1,134.5 L191.6,133.0 L192.1,131.6 L192.6,130.2 L193.1,128.8 L193.6,127.4 L194.1,126.1 L194.6,124.7 L195.1,123.3 L195.6,122.0 L196.1,120.6 L196.6,119.3 L197.1,118.0 L197.6,116.7 L198.1,115.4 L198.6,114.1 L199.1,112.8 L199.6,111.5 L200.1,110.1 L200.6,108.7 L201.1,107.2 L201.6,105.8 L202.1,104.3 L202.6,102.9 L203.1,101.5 L203.6,100.1 L204.1,98.8 L204.6,97.6 L205.1,96.4 L205.6,95.2 L206.1,94.3 L206.6,93.6 L207.1,93.1 L207.6,92.7 L208.1,92.5 L208.6,92.3 L209.1,92.3 L209.6,92.4 L210.1,92.6 L210.6,92.9 L211.1,93.4 L211.6,94.0 L212.1,94.7 L212.6,95.6 L213.1,96.5 L213.6,97.4 L214.1,98.4 L214.6,99.3 L215.1,100.3 L215.6,101.1 L216.1,102.0 L216.6,102.7 L217.1,103.4 L217.6,103.9 L218.1,104.4 L218.6,104.9 L219.1,105.3 L219.6,105.6 L220.1,105.9 L220.6,106.1 L221.1,106.3 L221.6,106.5 L222.1,106.7 L222.6,106.9 L223.1,107.2 L223.6,107.4 L224.1,107.7 L224.6,108.0 L225.1,108.6 L225.6,109.3 L226.1,109.9 L226.6,110.6 L227.1,111.4 L227.6,112.4 L228.1,113.8 L228.6,115.4 L229.1,117.5 L229.6,120.0 L230.1,123.0 L230.6,125.7 L231.1,128.4 L231.6,131.0 L232.1,133.9 L232.6,136.8 L233.1,139.8 L233.6,142.8 L234.1,145.9 L234.6,149.0 L235.1,152.1 L235.6,155.2 L236.1,158.3 L236.6,161.5 L237.1,164.6 L237.6,167.7 L238.1,170.9 L238.6,174.2 L239.1,177.6 L239.6,180.9 L240.1,184.3 L240.6,187.6 L241.1,190.8 L241.6,193.8 L242.1,196.6 L242.6,199.3 L243.1,201.7 L243.6,203.9 L244.1,206.0 L244.6,207.9 L245.1,209.8 L245.6,211.6 L246.1,213.4 L246.6,215.1 L247.1,216.7 L247.6,218.3 L248.1,219.9 L248.6,221.4 L249.1,222.9 L249.6,224.4 L250.1,225.9 L250.6,227.4 L251.1,228.8 L251.6,230.2 L252.1,231.4 L252.6,232.6 L253.1,233.7 L253.6,234.7 L254.1,235.7 L254.6,236.5 L255.1,237.2 L255.6,237.9 L256.1,238.6 L256.6,239.2 L257.1,239.8 L257.6,240.3 L258.1,240.7 L258.6,241.2 L259.1,241.7 L259.6,242.1 L260.1,242.5 L260.6,242.8 L261.1,243.1 L261.6,243.5 L262.1,243.8 L262.6,244.1 L263.1,244.3 L263.6,244.6 L264.1,244.9 L264.6,245.1 L265.1,245.4 L265.6,245.7 L266.1,245.9 L266.6,246.2 L267.1,246.4 L267.6,246.6 L268.1,246.9 L268.6,247.1 L269.1,247.3 L269.6,247.4 L270.1,247.6 L270.6,247.8 L271.1,247.9 L271.6,248.0 L272.1,248.3 L272.6,248.4 L273.1,248.4 L273.6,248.5 L274.1,248.6 L274.6,248.8 L275.1,249.0 L275.6,249.1 L276.1,249.0 L276.6,249.2 L277.1,249.4 L277.6,249.3 L278.1,249.6 L278.6,249.6 L279.1,249.7 L279.6,249.8 L280.1,249.6 L280.6,249.9 L281.1,250.0 L281.6,250.1 L282.1,250.1 L282.6,250.0 L283.1,250.1 L283.6,250.1 L284.1,250.1 L284.6,250.1 L285.1,250.4 L285.6,250.6 L286.1,250.5 L286.6,250.5 L287.1,250.4 L287.6,250.6 L288.1,250.8 L288.6,250.5 L289.1,250.5 L289.6,250.5 L290.1,250.9 L290.6,250.5 L291.1,250.8 L291.6,251.0 L292.1,250.6 L292.6,250.9 L293.1,250.9 L293.6,250.7 L294.1,250.7 L294.6,250.9 L295.1,250.7 L295.6,251.1 L296.1,251.3 L296.6,251.0 L297.1,250.8 L297.6,250.9 L298.1,250.9 L298.6,251.3 L299.1,251.3 L299.6,250.9 L300.1,251.4 L300.6,251.5 L301.1,251.2 L301.6,251.1 L302.1,251.4 L302.6,251.3 L303.1,251.0 L303.6,251.1 L304.1,251.5 L304.6,251.5 L305.1,251.1 L305.6,251.5 L306.1,251.4 L306.6,251.4 L307.1,251.4 L307.6,251.5 L308.1,251.1 L308.6,251.1 L309.1,251.5 L309.6,251.2 L310.1,251.5 L310.6,251.3 L311.1,251.2 L311.6,251.5 L312.1,251.3 L312.6,251.4 L313.1,251.7 L313.6,251.3 L314.1,251.4 L314.6,251.2 L315.1,251.4 L315.6,251.2 L316.1,251.5 L316.6,251.6 L317.1,251.2 L317.6,251.2 L318.1,251.2 L318.6,251.7 L319.1,251.8 L319.6,251.5 L320.1,251.3 L320.6,251.8 L321.1,251.6 L321.6,251.7 L322.1,251.5 L322.6,251.7 L323.1,251.4 L323.6,251.3 L324.1,251.8 L324.6,251.2 L325.1,251.3 L325.6,251.3 L326.1,251.8 L326.6,251.4 L327.1,251.4 L327.6,251.4 L328.1,251.3 L328.6,251.5 L329.1,251.7 L329.6,251.6 L330.1,251.4 L330.6,251.4 L331.1,251.5 L331.6,251.8 L332.1,251.6 L332.6,251.7 L333.1,251.5 L333.6,251.5 L334.1,251.7 L334.6,251.5 L335.1,251.6 L335.6,251.3 L336.1,251.6 L336.6,251.4 L337.1,251.7 L337.6,251.4 L338.1,251.7 L338.6,251.4 L339.1,251.3 L339.6,251.3 L340.1,251.4 L340.6,251.4 L341.1,251.6 L341.6,251.4 L342.1,251.7 L342.6,251.5 L343.1,251.6 L343.6,251.4 L344.1,251.8 L344.6,251.7 L345.1,251.4 L345.6,251.7 L346.1,251.4 L346.6,251.8 L347.1,251.4 L347.6,251.8 L348.1,251.6 L348.6,251.4 L349.1,251.4 L349.6,251.6 L350.1,251.6 L350.6,251.4 L351.1,251.8 L351.6,251.5 L352.1,251.8 L352.6,251.4 L353.1,251.9 L353.6,251.8 L354.1,251.5 L354.6,251.5 L355.1,251.3 L355.6,251.9 L356.1,251.7 L356.6,251.4 L357.1,251.3 L357.6,251.3 L358.1,251.7 L358.6,251.3 L359.1,251.5 L359.6,251.5 L360.1,251.3 L360.6,251.8 L361.1,251.9 L361.6,251.8 L362.1,251.7 L362.6,251.3 L363.1,251.7 L363.6,251.5 L364.1,251.4 L364.6,251.7 L365.1,251.3 L365.6,251.7 L366.1,251.8 L366.6,251.3 L367.1,251.5 L367.6,251.8 L368.1,251.3 L368.6,251.3 L369.1,251.8 L369.6,251.4 L370.1,251.4 L370.6,251.4 L371.1,251.4 L371.6,251.5 L372.1,251.4 L372.6,251.5 L373.1,251.5 L373.6,251.5 L374.1,251.5 L374.6,251.5 L375.1,251.4 L375.6,251.8 L376.1,251.8 L376.6,251.8 L377.1,251.5 L377.6,251.7 L378.1,251.5 L378.6,251.8 L379.1,251.7 L379.6,251.7 L380.1,251.3 L380.6,251.8 L381.1,251.7 L381.6,251.8 L382.1,251.5 L382.6,251.3 L383.1,251.4 L383.6,251.7 L384.1,251.7" stroke="#008080"/>
<path d="M43.6,173.6 L44.1,175.1 L44.6,176.5 L45.1,178.0 L45.6,179.4 L46.1,180.8 L46.6,182.1 L47.1,183.4 L47.6,184.7 L48.1,186.0 L48.6,187.2 L49.1,188.3 L49.6,189.5 L50.1,190.6 L50.6,191.6 L51.1,192.6 L51.6,193.6 L52.1,194.5 L52.6,195.4 L53.1,196.2 L53.6,196.9 L54.1,197.6 L54.6,198.3 L55.1,199.0 L55.6,199.5 L56.1,200.0 L56.6,200.5 L57.1,200.9 L57.6,201.3 L58.1,201.6 L58.6,201.9 L59.1,202.1 L59.6,202.3 L60.1,202.4 L60.6,202.5 L61.1,202.5 L61.6,202.5 L62.1,202.4 L62.6,202.3 L63.1,202.2 L63.6,202.0 L64.1,201.8 L64.6,201.5 L65.1,201.1 L65.6,200.7 L66.1,200.3 L66.6,199.9 L67.1,199.3 L67.6,198.8 L68.1,198.2 L68.6,197.6 L69.1,197.0 L69.6,196.3 L70.1,195.6 L70.6,194.9 L71.1,194.2 L71.6,193.5 L72.1,192.8 L72.6,192.1 L73.1,191.4 L73.6,190.6 L74.1,189.9 L74.6,189.2 L75.1,188.5 L75.6,187.9 L76.1,187.2 L76.6,186.6 L77.1,186.0 L77.6,185.4 L78.1,184.8 L78.6,184.4 L79.1,183.9 L79.6,183.5 L80.1,183.1 L80.6,182.7 L81.1,182.5 L81.6,182.3 L82.1,182.1 L82.6,182.0 L83.1,182.0 L83.6,182.0 L84.1,182.0 L84.6,182.1 L85.1,182.3 L85.6,182.6 L86.1,182.9 L86.6,183.3 L87.1,183.8 L87.6,184.3 L88.1,184.9 L88.6,185.6 L89.1,186.4 L89.6,188.2 L90.1,189.9 L90.6,191.7 L91.1,193.6 L91.6,195.5 L92.1,197.3 L92.6,199.0 L93.1,200.7 L93.6,202.4 L94.1,204.0 L94.6,205.5 L95.1,206.9 L95.6,208.3 L96.1,209.7 L96.6,211.1 L97.1,212.4 L97.6,213.6 L98.1,214.7 L98.6,215.7 L99.1,216.4 L99.6,217.0 L100.1,217.6 L100.6,218.1 L101.1,218.6 L101.6,219.1 L102.1,219.5 L102.6,219.8 L103.1,220.1 L103.6,220.3 L104.1,220.5 L104.6,220.7 L105.1,221.0 L105.6,221.1 L106.1,221.3 L106.6,221.5 L107.1,221.5 L107.6,221.6 L108.1,221.6 L108.6,221.6 L109.1,221.6 L109.6,221.6 L110.1,221.6 L110.6,221.5 L111.1,221.5 L111.6,221.5 L112.1,221.4 L112.6,221.4 L113.1,221.3 L113.6,221.2 L114.1,221.1 L114.6,221.0 L115.1,220.8 L115.6,220.7 L116.1,220.5 L116.6,220.3 L117.1,220.0 L117.6,219.8 L118.1,219.5 L118.6,219.2 L119.1,218.9 L119.6,218.6 L120.1,218.4 L120.6,218.1 L121.1,217.9 L121.6,217.6 L122.1,217.3 L122.6,217.1 L123.1,216.8 L123.6,216.5 L124.1,216.3 L124.6,216.1 L125.1,215.8 L125.6,215.6 L126.1,215.3 L126.6,215.1 L127.1,214.9 L127.6,214.8 L128.1,214.7 L128.6,214.5 L129.1,214.4 L129.6,214.3 L130.1,214.3 L130.6,214.2 L131.1,214.3 L131.6,214.3 L132.1,214.4 L132.6,214.5 L133.1,214.6 L133.6,214.8 L134.1,214.9 L134.6,215.1 L135.1,215.2 L135.6,215.4 L136.1,215.6 L136.6,215.8 L137.1,215.9 L137.6,216.1 L138.1,216.2 L138.6,216.4 L139.1,216.5 L139.6,216.6 L140.1,216.8 L140.6,216.9 L141.1,217.0 L141.6,217.1 L142.1,217.2 L142.6,217.4 L143.1,217.5 L143.6,217.6 L144.1,217.7 L144.6,217.8 L145.1,217.8 L145.6,217.9 L146.1,218.0 L146.6,218.0 L147.1,218.0 L147.6,217.9 L148.1,217.8 L148.6,217.7 L149.1,217.6 L149.6,217.4 L150.1,217.2 L150.6,217.1 L151.1,216.9 L151.6,216.6 L152.1,216.4 L152.6,216.0 L153.1,215.7 L153.6,215.3 L154.1,214.9 L154.6,214.5 L155.1,214.2 L155.6,213.8 L156.1,213.4 L156.6,212.9 L157.1,212.5 L157.6,212.0 L158.1,211.5 L158.6,211.0 L159.1,210.5 L159.6,210.0 L160.1,209.5 L160.6,208.9 L161.1,208.3 L161.6,207.7 L162.1,207.0 L162.6,206.3 L163.1,205.7 L163.6,205.0 L164.1,204.4 L164.6,203.7 L165.1,203.1 L165.6,202.5 L166.1,201.8 L166.6,201.1 L167.1,200.5 L167.6,199.7 L168.1,199.0 L168.6,198.2 L169.1,197.4 L169.6,196.5 L170.1,195.7 L170.6,194.8 L171.1,193.9 L171.6,193.0 L172.1,192.1 L172.6,191.1 L173.1,190.1 L173.6,189.2 L174.1,188.2 L174.6,187.1 L175.1,186.1 L175.6,185.1 L176.1,184.0 L176.6,182.9 L177.1,181.8 L177.6,180.7 L178.1,179.6 L178.6,178.5 L179.1,177.3 L179.6,176.2 L180.1,175.0 L180.6,173.9 L181.1,172.6 L181.6,171.4 L182.1,170.1 L182.6,168.8 L183.1,167.4 L183.6,166.0 L184.1,164.6 L184.6,163.2 L185.1,161.8 L185.6,160.4 L186.1,159.0 L186.6,157.6 L187.1,156.3 L187.6,154.9 L188.1,153.5 L188.6,152.2 L189.1,150.9 L189.6,149.6 L190.1,148.3 L190.6,147.1 L191.1,145.8 L191.6,144.6 L192.1,143.4 L192.6,142.2 L193.1,141.0 L193.6,139.8 L194.1,138.7 L194.6,137.5 L195.1,136.4 L195.6,135.2 L196.1,134.0 L196.6,132.9 L197.1,131.7 L197.6,130.6 L198.1,129.5 L198.6,128.4 L199.1,127.2 L199.6,126.1 L200.1,124.9 L200.6,123.6 L201.1,122.3 L201.6,121.0 L202.1,119.7 L202.6,118.5 L203.1,117.3 L203.6,116.1 L204.1,114.9 L204.6,113.8 L205.1,112.7 L205.6,111.7 L206.1,110.9 L206.6,110.3 L207.1,109.8 L207.6,109.5 L208.1,109.3 L208.6,109.1 L209.1,109.1 L209.6,109.2 L210.1,109.4 L210.6,109.7 L211.1,110.1 L211.6,110.6 L212.1,111.3 L212.6,112.0 L213.1,112.8 L213.6,113.6 L214.1,114.5 L214.6,115.4 L215.1,116.2 L215.6,117.0 L216.1,117.7 L216.6,118.4 L217.1,119.0 L217.6,119.5 L218.1,119.9 L218.6,120.3 L219.1,120.7 L219.6,121.0 L220.1,121.2 L220.6,121.4 L221.1,121.6 L221.6,121.7 L222.1,121.9 L222.6,122.1 L223.1,122.3 L223.6,122.5 L224.1,122.8 L224.6,123.1 L225.1,123.6 L225.6,124.2 L226.1,124.8 L226.6,125.4 L227.1,126.1 L227.6,127.0 L228.1,128.2 L228.6,129.7 L229.1,131.5 L229.6,133.8 L230.1,136.5 L230.6,138.9 L231.1,141.2 L231.6,143.6 L232.1,146.1 L232.6,148.7 L233.1,151.4 L233.6,154.1 L234.1,156.8 L234.6,159.5 L235.1,162.3 L235.6,165.1 L236.1,167.9 L236.6,170.7 L237.1,173.5 L237.6,176.3 L238.1,179.1 L238.6,182.0 L239.1,185.0 L239.6,188.0 L240.1,191.0 L240.6,193.9 L241.1,196.7 L241.6,199.4 L242.1,202.0 L242.6,204.3 L243.1,206.5 L243.6,208.4 L244.1,210.3 L244.6,212.0 L245.1,213.7 L245.6,215.3 L246.1,216.9 L246.6,218.4 L247.1,219.8 L247.6,221.2 L248.1,222.6 L248.6,224.0 L249.1,225.3 L249.6,226.6 L250.1,228.0 L250.6,229.3 L251.1,230.6 L251.6,231.8 L252.1,232.9 L252.6,234.0 L253.1,235.0 L253.6,235.9 L254.1,236.7 L254.6,237.4 L255.1,238.1 L255.6,238.7 L256.1,239.3 L256.6,239.8 L257.1,240.3 L257.6,240.8 L258.1,241.2 L258.6,241.6 L259.1,242.0 L259.6,242.4 L260.1,242.8 L260.6,243.1 L261.1,243.4 L261.6,243.6 L262.1,243.9 L262.6,244.2 L263.1,244.4 L263.6,244.6 L264.1,244.9 L264.6,245.1 L265.1,245.4 L265.6,245.6 L266.1,245.8 L266.6,246.1 L267.1,246.2 L267.6,246.4 L268.1,246.7 L268.6,246.9 L269.1,247.0 L269.6,247.2 L270.1,247.4 L270.6,247.5 L271.1,247.6 L271.6,247.8 L272.1,247.8 L272.6,248.1 L273.1,248.1 L273.6,248.2 L274.1,248.4 L274.6,248.5 L275.1,248.5 L275.6,248.6 L276.1,248.7 L276.6,248.9 L277.1,248.9 L277.6,248.8 L278.1,248.8 L278.6,249.0 L279.1,249.1 L279.6,249.1 L280.1,249.2 L280.6,249.5 L281.1,249.2 L281.6,249.4 L282.1,249.6 L282.6,249.3 L283.1,249.5 L283.6,249.6 L284.1,249.8 L284.6,249.9 L285.1,249.6 L285.6,250.0 L286.1,249.8 L286.6,249.7 L287.1,249.7 L287.6,249.9 L288.1,250.2 L288.6,249.8 L289.1,249.9 L289.6,250.3 L290.1,250.3 L290.6,250.0 L291.1,249.9 L291.6,250.3 L292.1,250.4 L292.6,249.9 L293.1,250.3 L293.6,250.0 L294.1,250.4 L294.6,250.1 L295.1,250.1 L295.6,250.4 L296.1,250.7 L296.6,250.1 L297.1,250.2 L297.6,250.2 L298.1,250.7 L298.6,250.3 L299.1,250.3 L299.6,250.5 L300.1,250.8 L300.6,250.4 L301.1,250.5 L301.6,250.5 L302.1,250.6 L302.6,250.5 L303.1,250.8 L303.6,250.4 L304.1,250.6 L304.6,250.4 L305.1,250.9 L305.6,250.6 L306.1,251.0 L306.6,250.8 L307.1,250.5 L307.6,251.0 L308.1,250.5 L308.6,250.8 L309.1,250.9 L309.6,250.4 L310.1,250.5 L310.6,250.7 L311.1,250.6 L311.6,250.6 L312.1,250.6 L312.6,250.7 L313.1,251.1 L313.6,250.7 L314.1,250.7 L314.6,250.6 L315.1,250.6 L315.6,250.6 L316.1,251.1 L316.6,251.1 L317.1,250.6 L317.6,250.7 L318.1,250.8 L318.6,250.8 L319.1,250.6 L319.6,250.5 L320.1,251.0 L320.6,250.5 L321.1,250.7 L321.6,251.0 L322.1,250.9 L322.6,250.7 L323.1,251.0 L323.6,251.2 L324.1,250.8 L324.6,251.1 L325.1,250.8 L325.6,250.7 L326.1,251.2 L326.6,251.0 L327.1,250.6 L327.6,250.8 L328.1,250.7 L328.6,250.8 L329.1,251.0 L329.6,250.7 L330.1,250.9 L330.6,250.6 L331.1,250.8 L331.6,251.1 L332.1,251.0 L332.6,250.7 L333.1,250.7 L333.6,250.9 L334.1,250.8 L334.6,251.2 L335.1,250.7 L335.6,251.1 L336.1,250.6 L336.6,251.0 L337.1,251.1 L337.6,250.6 L338.1,250.8 L338.6,251.0 L339.1,250.8 L339.6,250.6 L340.1,251.0 L340.6,250.8 L341.1,250.6 L341.6,250.5 L342.1,250.9 L342.6,250.7 L343.1,251.1 L343.6,250.6 L344.1,250.5 L344.6,251.1 L345.1,250.8 L345.6,251.1 L346.1,250.9 L346.6,251.1 L347.1,251.2 L347.6,250.6 L348.1,250.7 L348.6,250.6 L349.1,251.2 L349.6,251.0 L350.1,251.1 L350.6,251.2 L351.1,251.1 L351.6,251.1 L352.1,251.2 L352.6,250.9 L353.1,251.1 L353.6,251.2 L354.1,250.8 L354.6,250.7 L355.1,251.0 L355.6,250.5 L356.1,250.7 L356.6,250.8 L357.1,251.1 L357.6,250.5 L358.1,250.7 L358.6,250.7 L359.1,251.0 L359.6,251.1 L360.1,250.8 L360.6,251.1 L361.1,250.8 L361.6,250.9 L362.1,250.7 L362.6,250.6 L363.1,251.1 L363.6,250.9 L364.1,250.7 L364.6,250.9 L365.1,250.8 L365.6,250.5 L366.1,251.0 L366.6,251.1 L367.1,250.9 L367.6,250.6 L368.1,250.8 L368.6,250.6 L369.1,250.6 L369.6,250.7 L370.1,251.1 L370.6,251.1 L371.1,251.1 L371.6,251.2 L372.1,250.6 L372.6,250.7 L373.1,250.5 L373.6,250.5 L374.1,251.0 L374.6,250.8 L375.1,250.9 L375.6,251.1 L376.1,250.7 L376.6,250.7 L377.1,251.1 L377.6,250.5 L378.1,251.2 L378.6,250.7 L379.1,250.5 L379.6,250.7 L380.1,250.6 L380.6,251.1 L381.1,250.5 L381.6,250.5 L382.1,250.9 L382.6,250.6 L383.1,250.7 L383.6,251.1 L384.1,250.8" stroke="#ff00ff"/>
<path d="M43.6,177.6 L44.1,179.1 L44.6,180.6 L45.1,182.1 L45.6,183.5 L46.1,184.9 L46.6,186.2 L47.1,187.5 L47.6,188.8 L48.1,190.0 L48.6,191.2 L49.1,192.3 L49.6,193.4 L50.1,194.5 L50.6,195.6 L51.1,196.5 L51.6,197.5 L52.1,198.4 L52.6,199.3 L53.1,200.1 L53.6,200.9 L54.1,201.7 L54.6,202.4 L55.1,203.1 L55.6,203.7 L56.1,204.3 L56.6,204.8 L57.1,205.3 L57.6,205.8 L58.1,206.3 L58.6,206.6 L59.1,207.0 L59.6,207.3 L60.1,207.6 L60.6,207.8 L61.1,207.9 L61.6,208.1 L62.1,208.1 L62.6,208.2 L63.1,208.2 L63.6,208.2 L64.1,208.1 L64.6,208.0 L65.1,207.8 L65.6,207.6 L66.1,207.4 L66.6,207.1 L67.1,206.8 L67.6,206.4 L68.1,206.0 L68.6,205.5 L69.1,205.1 L69.6,204.6 L70.1,204.0 L70.6,203.5 L71.1,202.9 L71.6,202.3 L72.1,201.7 L72.6,201.1 L73.1,200.5 L73.6,199.9 L74.1,199.3 L74.6,198.7 L75.1,198.1 L75.6,197.5 L76.1,196.9 L76.6,196.4 L77.1,195.9 L77.6,195.4 L78.1,194.9 L78.6,194.5 L79.1,194.2 L79.6,193.9 L80.1,193.6 L80.6,193.3 L81.1,193.1 L81.6,193.0 L82.1,192.9 L82.6,193.0 L83.1,193.0 L83.6,193.1 L84.1,193.3 L84.6,193.6 L85.1,194.0 L85.6,194.5 L86.1,195.0 L86.6,195.7 L87.1,196.4 L87.6,197.2 L88.1,198.0 L88.6,198.9 L89.1,199.8 L89.6,201.3 L90.1,202.8 L90.6,204.3 L91.1,205.9 L91.6,207.5 L92.1,208.9 L92.6,210.3 L93.1,211.7 L93.6,213.0 L94.1,214.3 L94.6,215.6 L95.1,216.7 L95.6,217.8 L96.1,218.9 L96.6,220.0 L97.1,221.0 L97.6,222.0 L98.1,222.9 L98.6,223.6 L99.1,224.2 L99.6,224.7 L100.1,225.1 L100.6,225.5 L101.1,225.9 L101.6,226.2 L102.1,226.5 L102.6,226.8 L103.1,227.0 L103.6,227.1 L104.1,227.3 L104.6,227.4 L105.1,227.6 L105.6,227.7 L106.1,227.8 L106.6,227.9 L107.1,227.9 L107.6,227.9 L108.1,227.9 L108.6,227.9 L109.1,227.9 L109.6,227.9 L110.1,227.8 L110.6,227.8 L111.1,227.7 L111.6,227.7 L112.1,227.6 L112.6,227.5 L113.1,227.4 L113.6,227.3 L114.1,227.2 L114.6,227.1 L115.1,227.0 L115.6,226.8 L116.1,226.7 L116.6,226.5 L117.1,226.3 L117.6,226.0 L118.1,225.8 L118.6,225.5 L119.1,225.3 L119.6,225.0 L120.1,224.8 L120.6,224.6 L121.1,224.4 L121.6,224.1 L122.1,223.9 L122.6,223.7 L123.1,223.5 L123.6,223.3 L124.1,223.0 L124.6,222.8 L125.1,222.6 L125.6,222.4 L126.1,222.3 L126.6,222.1 L127.1,221.9 L127.6,221.8 L128.1,221.7 L128.6,221.6 L129.1,221.5 L129.6,221.4 L130.1,221.4 L130.6,221.4 L131.1,221.4 L131.6,221.4 L132.1,221.5 L132.6,221.6 L133.1,221.7 L133.6,221.8 L134.1,221.9 L134.6,222.0 L135.1,222.2 L135.6,222.3 L136.1,222.5 L136.6,222.6 L137.1,222.8 L137.6,222.9 L138.1,223.0 L138.6,223.1 L139.1,223.2 L139.6,223.4 L140.1,223.5 L140.6,223.6 L141.1,223.7 L141.6,223.8 L142.1,223.9 L142.6,224.0 L143.1,224.0 L143.6,224.1 L144.1,224.2 L144.6,224.3 L145.1,224.3 L145.6,224.4 L146.1,224.4 L146.6,224.5 L147.1,224.4 L147.6,224.4 L148.1,224.3 L148.6,224.2 L149.1,224.0 L149.6,223.9 L150.1,223.7 L150.6,223.6 L151.1,223.4 L151.6,223.2 L152.1,222.9 L152.6,222.7 L153.1,222.3 L153.6,222.0 L154.1,221.7 L154.6,221.3 L155.1,221.0 L155.6,220.6 L156.1,220.3 L156.6,219.9 L157.1,219.5 L157.6,219.1 L158.1,218.7 L158.6,218.2 L159.1,217.8 L159.6,217.3 L160.1,216.8 L160.6,216.3 L161.1,215.8 L161.6,215.2 L162.1,214.6 L162.6,214.0 L163.1,213.4 L163.6,212.9 L164.1,212.3 L164.6,211.7 L165.1,211.1 L165.6,210.6 L166.1,210.0 L166.6,209.4 L167.1,208.7 L167.6,208.1 L168.1,207.4 L168.6,206.7 L169.1,205.9 L169.6,205.2 L170.1,204.4 L170.6,203.6 L171.1,202.8 L171.6,201.9 L172.1,201.1 L172.6,200.2 L173.1,199.3 L173.6,198.4 L174.1,197.5 L174.6,196.5 L175.1,195.6 L175.6,194.6 L176.1,193.6 L176.6,192.6 L177.1,191.6 L177.6,190.5 L178.1,189.5 L178.6,188.5 L179.1,187.4 L179.6,186.3 L180.1,185.2 L180.6,184.2 L181.1,183.0 L181.6,181.9 L182.1,180.7 L182.6,179.5 L183.1,178.3 L183.6,177.0 L184.1,175.8 L184.6,174.6 L185.1,173.3 L185.6,172.1 L186.1,170.9 L186.6,169.7 L187.1,168.5 L187.6,167.3 L188.1,166.2 L188.6,165.0 L189.1,163.9 L189.6,162.8 L190.1,161.7 L190.6,160.6 L191.1,159.6 L191.6,158.5 L192.1,157.5 L192.6,156.5 L193.1,155.5 L193.6,154.5 L194.1,153.5 L194.6,152.5 L195.1,151.5 L195.6,150.5 L196.1,149.5 L196.6,148.5 L197.1,147.5 L197.6,146.6 L198.1,145.6 L198.6,144.6 L199.1,143.6 L199.6,142.6 L200.1,141.6 L200.6,140.5 L201.1,139.4 L201.6,138.2 L202.1,137.1 L202.6,136.0 L203.1,134.9 L203.6,133.9 L204.1,132.9 L204.6,131.9 L205.1,130.9 L205.6,130.1 L206.1,129.3 L206.6,128.8 L207.1,128.4 L207.6,128.1 L208.1,127.9 L208.6,127.8 L209.1,127.8 L209.6,127.9 L210.1,128.0 L210.6,128.3 L211.1,128.6 L211.6,129.1 L212.1,129.7 L212.6,130.3 L213.1,131.0 L213.6,131.8 L214.1,132.5 L214.6,133.3 L215.1,134.0 L215.6,134.7 L216.1,135.4 L216.6,136.0 L217.1,136.5 L217.6,136.9 L218.1,137.3 L218.6,137.6 L219.1,137.9 L219.6,138.2 L220.1,138.4 L220.6,138.6 L221.1,138.8 L221.6,138.9 L222.1,139.1 L222.6,139.2 L223.1,139.4 L223.6,139.6 L224.1,139.8 L224.6,140.1 L225.1,140.6 L225.6,141.1 L226.1,141.6 L226.6,142.1 L227.1,142.7 L227.6,143.5 L228.1,144.6 L228.6,145.9 L229.1,147.5 L229.6,149.5 L230.1,151.9 L230.6,154.0 L231.1,156.0 L231.6,158.1 L232.1,160.3 L232.6,162.6 L233.1,165.0 L233.6,167.3 L234.1,169.7 L234.6,172.1 L235.1,174.6 L235.6,177.0 L236.1,179.5 L236.6,181.9 L237.1,184.4 L237.6,186.8 L238.1,189.3 L238.6,191.9 L239.1,194.5 L239.6,197.2 L240.1,199.8 L240.6,202.4 L241.1,204.9 L241.6,207.2 L242.1,209.5 L242.6,211.5 L243.1,213.4 L243.6,215.1 L244.1,216.8 L244.6,218.3 L245.1,219.8 L245.6,221.2 L246.1,222.6 L246.6,223.9 L247.1,225.2 L247.6,226.4 L248.1,227.6 L248.6,228.8 L249.1,230.0 L249.6,231.2 L250.1,232.4 L250.6,233.5 L251.1,234.7 L251.6,235.7 L252.1,236.7 L252.6,237.6 L253.1,238.5 L253.6,239.3 L254.1,240.0 L254.6,240.7 L255.1,241.2 L255.6,241.8 L256.1,242.3 L256.6,242.8 L257.1,243.2 L257.6,243.6 L258.1,244.0 L258.6,244.4 L259.1,244.7 L259.6,245.0 L260.1,245.3 L260.6,245.6 L261.1,245.9 L261.6,246.1 L262.1,246.4 L262.6,246.6 L263.1,246.8 L263.6,247.0 L264.1,247.2 L264.6,247.4 L265.1,247.6 L265.6,247.8 L266.1,248.0 L266.6,248.2 L267.1,248.5 L267.6,248.6 L268.1,248.8 L268.6,249.0 L269.1,249.1 L269.6,249.3 L270.1,249.4 L270.6,249.6 L271.1,249.6 L271.6,249.7 L272.1,249.8 L272.6,250.0 L273.1,250.0 L273.6,250.1 L274.1,250.2 L274.6,250.3 L275.1,250.4 L275.6,250.3 L276.1,250.6 L276.6,250.6 L277.1,250.8 L277.6,250.6 L278.1,250.7 L278.6,250.9 L279.1,250.9 L279.6,250.8 L280.1,251.0 L280.6,251.2 L281.1,251.1 L281.6,251.1 L282.1,251.4 L282.6,251.1 L283.1,251.1 L283.6,251.1 L284.1,251.6 L284.6,251.4 L285.1,251.3 L285.6,251.3 L286.1,251.4 L286.6,251.4 L287.1,251.9 L287.6,251.5 L288.1,251.9 L288.6,251.8 L289.1,251.5 L289.6,251.6 L290.1,251.7 L290.6,251.8 L291.1,251.7 L291.6,252.0 L292.1,251.6 L292.6,251.6 L293.1,252.0 L293.6,251.8 L294.1,252.1 L294.6,251.9 L295.1,252.2 L295.6,252.3 L296.1,252.0 L296.6,251.9 L297.1,252.3 L297.6,251.9 L298.1,252.1 L298.6,252.4 L299.1,252.0 L299.6,252.3 L300.1,252.1 L300.6,252.4 L301.1,252.4 L301.6,251.9 L302.1,252.5 L302.6,252.0 L303.1,252.5 L303.6,252.2 L304.1,251.9 L304.6,252.5 L305.1,252.4 L305.6,252.1 L306.1,252.5 L306.6,252.1 L307.1,252.2 L307.6,252.3 L308.1,252.4 L308.6,252.3 L309.1,252.5 L309.6,252.4 L310.1,252.5 L310.6,252.1 L311.1,252.6 L311.6,252.1 L312.1,252.5 L312.6,252.5 L313.1,252.2 L313.6,252.7 L314.1,252.6 L314.6,252.4 L315.1,252.7 L315.6,252.3 L316.1,252.4 L316.6,252.5 L317.1,252.2 L317.6,252.4 L318.1,252.5 L318.6,252.2 L319.1,252.4 L319.6,252.1 L320.1,252.7 L320.6,252.5 L321.1,252.2 L321.6,252.5 L322.1,252.1 L322.6,252.4 L323.1,252.7 L323.6,252.5 L324.1,252.3 L324.6,252.5 L325.1,252.7 L325.6,252.2 L326.1,252.7 L326.6,252.3 L327.1,252.5 L327.6,252.2 L328.1,252.4 L328.6,252.7 L329.1,252.4 L329.6,252.6 L330.1,252.4 L330.6,252.1 L331.1,252.4 L331.6,252.3 L332.1,252.8 L332.6,252.6 L333.1,252.7 L333.6,252.5 L334.1,252.8 L334.6,252.7 L335.1,252.4 L335.6,252.5 L336.1,252.3 L336.6,252.4 L337.1,252.1 L337.6,252.6 L338.1,252.3 L338.6,252.4 L339.1,252.4 L339.6,252.7 L340.1,252.3 L340.6,252.5 L341.1,252.3 L341.6,252.3 L342.1,252.6 L342.6,252.5 L343.1,252.4 L343.6,252.3 L344.1,252.2 L344.6,252.1 L345.1,252.7 L345.6,252.6 L346.1,252.6 L346.6,252.5 L347.1,252.1 L347.6,252.6 L348.1,252.2 L348.6,252.8 L349.1,252.8 L349.6,252.8 L350.1,252.4 L350.6,252.6 L351.1,252.2 L351.6,252.7 L352.1,252.6 L352.6,252.3 L353.1,252.5 L353.6,252.2 L354.1,252.5 L354.6,252.8 L355.1,252.3 L355.6,252.1 L356.1,252.2 L356.6,252.5 L357.1,252.7 L357.6,252.1 L358.1,252.5 L358.6,252.4 L359.1,252.6 L359.6,252.5 L360.1,252.5 L360.6,252.5 L361.1,252.5 L361.6,252.2 L362.1,252.4 L362.6,252.3 L363.1,252.4 L363.6,252.5 L364.1,252.7 L364.6,252.6 L365.1,252.3 L365.6,252.7 L366.1,252.5 L366.6,252.2 L367.1,252.6 L367.6,252.7 L368.1,252.5 L368.6,252.7 L369.1,252.7 L369.6,252.7 L370.1,252.2 L370.6,252.4 L371.1,252.3 L371.6,252.8 L372.1,252.6 L372.6,252.7 L373.1,252.5 L373.6,252.3 L374.1,252.2 L374.6,252.4 L375.1,252.5 L375.6,252.6 L376.1,252.8 L376.6,252.2 L377.1,252.4 L377.6,252.8 L378.1,252.5 L378.6,252.6 L379.1,252.7 L379.6,252.5 L380.1,252.7 L380.6,252.3 L381.1,252.6 L381.6,252.3 L382.1,252.7 L382.6,252.4 L383.1,252.6 L383.6,252.7 L384.1,252.7" stroke="#808000"/>
<path d="M43.6,188.8 L44.1,190.4 L44.6,192.0 L45.1,193.6 L45.6,195.1 L46.1,196.6 L46.6,198.1 L47.1,199.7 L47.6,201.2 L48.1,202.6 L48.6,203.8 L49.1,204.8 L49.6,205.8 L50.1,206.6 L50.6,207.4 L51.1,208.1 L51.6,208.7 L52.1,209.2 L52.6,209.8 L53.1,210.2 L53.6,210.7 L54.1,211.1 L54.6,211.5 L55.1,211.9 L55.6,212.2 L56.1,212.5 L56.6,212.8 L57.1,213.1 L57.6,213.3 L58.1,213.5 L58.6,213.7 L59.1,213.8 L59.6,214.0 L60.1,214.1 L60.6,214.1 L61.1,214.2 L61.6,214.2 L62.1,214.1 L62.6,214.1 L63.1,214.0 L63.6,213.9 L64.1,213.8 L64.6,213.6 L65.1,213.4 L65.6,213.2 L66.1,213.0 L66.6,212.7 L67.1,212.4 L67.6,212.0 L68.1,211.7 L68.6,211.3 L69.1,210.9 L69.6,210.5 L70.1,210.1 L70.6,209.7 L71.1,209.2 L71.6,208.8 L72.1,208.3 L72.6,207.9 L73.1,207.4 L73.6,207.0 L74.1,206.5 L74.6,206.1 L75.1,205.6 L75.6,205.2 L76.1,204.8 L76.6,204.4 L77.1,204.0 L77.6,203.7 L78.1,203.4 L78.6,203.1 L79.1,202.8 L79.6,202.6 L80.1,202.3 L80.6,202.1 L81.1,202.0 L81.6,201.8 L82.1,201.8 L82.6,201.8 L83.1,201.8 L83.6,201.9 L84.1,202.1 L84.6,202.4 L85.1,202.8 L85.6,203.4 L86.1,204.1 L86.6,204.8 L87.1,205.6 L87.6,206.5 L88.1,207.4 L88.6,208.3 L89.1,209.2 L89.6,210.4 L90.1,211.6 L90.6,212.9 L91.1,214.2 L91.6,215.4 L92.1,216.6 L92.6,217.7 L93.1,218.8 L93.6,219.9 L94.1,220.9 L94.6,221.8 L95.1,222.7 L95.6,223.6 L96.1,224.4 L96.6,225.3 L97.1,226.1 L97.6,226.8 L98.1,227.5 L98.6,228.0 L99.1,228.5 L99.6,228.8 L100.1,229.1 L100.6,229.4 L101.1,229.6 L101.6,229.8 L102.1,230.0 L102.6,230.2 L103.1,230.3 L103.6,230.3 L104.1,230.4 L104.6,230.5 L105.1,230.5 L105.6,230.6 L106.1,230.6 L106.6,230.7 L107.1,230.6 L107.6,230.6 L108.1,230.5 L108.6,230.5 L109.1,230.4 L109.6,230.3 L110.1,230.3 L110.6,230.2 L111.1,230.1 L111.6,230.0 L112.1,230.0 L112.6,229.9 L113.1,229.8 L113.6,229.7 L114.1,229.6 L114.6,229.5 L115.1,229.4 L115.6,229.2 L116.1,229.1 L116.6,228.9 L117.1,228.7 L117.6,228.5 L118.1,228.3 L118.6,228.1 L119.1,227.9 L119.6,227.7 L120.1,227.5 L120.6,227.3 L121.1,227.1 L121.6,226.9 L122.1,226.8 L122.6,226.6 L123.1,226.4 L123.6,226.3 L124.1,226.1 L124.6,225.9 L125.1,225.8 L125.6,225.7 L126.1,225.5 L126.6,225.4 L127.1,225.3 L127.6,225.2 L128.1,225.1 L128.6,225.1 L129.1,225.0 L129.6,225.0 L130.1,225.0 L130.6,225.0 L131.1,225.1 L131.6,225.1 L132.1,225.2 L132.6,225.3 L133.1,225.4 L133.6,225.5 L134.1,225.7 L134.6,225.8 L135.1,225.9 L135.6,226.1 L136.1,226.2 L136.6,226.3 L137.1,226.5 L137.6,226.6 L138.1,226.7 L138.6,226.8 L139.1,226.9 L139.6,227.0 L140.1,227.0 L140.6,227.1 L141.1,227.2 L141.6,227.3 L142.1,227.3 L142.6,227.4 L143.1,227.5 L143.6,227.5 L144.1,227.6 L144.6,227.6 L145.1,227.7 L145.6,227.7 L146.1,227.7 L146.6,227.7 L147.1,227.7 L147.6,227.6 L148.1,227.5 L148.6,227.4 L149.1,227.3 L149.6,227.2 L150.1,227.1 L150.6,226.9 L151.1,226.8 L151.6,226.6 L152.1,226.4 L152.6,226.2 L153.1,225.9 L153.6,225.7 L154.1,225.4 L154.6,225.1 L155.1,224.8 L155.6,224.6 L156.1,224.3 L156.6,224.0 L157.1,223.7 L157.6,223.3 L158.1,223.0 L158.6,222.6 L159.1,222.2 L159.6,221.9 L160.1,221.5 L160.6,221.1 L161.1,220.6 L161.6,220.2 L162.1,219.7 L162.6,219.3 L163.1,218.8 L163.6,218.3 L164.1,217.9 L164.6,217.4 L165.1,216.9 L165.6,216.5 L166.1,216.0 L166.6,215.6 L167.1,215.1 L167.6,214.6 L168.1,214.0 L168.6,213.4 L169.1,212.9 L169.6,212.3 L170.1,211.6 L170.6,211.0 L171.1,210.4 L171.6,209.7 L172.1,209.0 L172.6,208.3 L173.1,207.6 L173.6,206.9 L174.1,206.2 L174.6,205.4 L175.1,204.7 L175.6,203.9 L176.1,203.1 L176.6,202.3 L177.1,201.5 L177.6,200.7 L178.1,199.9 L178.6,199.1 L179.1,198.2 L179.6,197.4 L180.1,196.5 L180.6,195.7 L181.1,194.8 L181.6,193.9 L182.1,193.0 L182.6,192.0 L183.1,191.1 L183.6,190.1 L184.1,189.1 L184.6,188.1 L185.1,187.1 L185.6,186.1 L186.1,185.2 L186.6,184.2 L187.1,183.3 L187.6,182.3 L188.1,181.4 L188.6,180.5 L189.1,179.6 L189.6,178.7 L190.1,177.9 L190.6,177.0 L191.1,176.2 L191.6,175.4 L192.1,174.6 L192.6,173.8 L193.1,173.0 L193.6,172.2 L194.1,171.4 L194.6,170.7 L195.1,169.9 L195.6,169.1 L196.1,168.3 L196.6,167.5 L197.1,166.7 L197.6,166.0 L198.1,165.2 L198.6,164.4 L199.1,163.6 L199.6,162.8 L200.1,162.0 L200.6,161.2 L201.1,160.3 L201.6,159.3 L202.1,158.4 L202.6,157.6 L203.1,156.7 L203.6,155.9 L204.1,155.0 L204.6,154.3 L205.1,153.5 L205.6,152.8 L206.1,152.2 L206.6,151.8 L207.1,151.5 L207.6,151.2 L208.1,151.1 L208.6,151.0 L209.1,151.0 L209.6,151.0 L210.1,151.2 L210.6,151.4 L211.1,151.7 L211.6,152.1 L212.1,152.5 L212.6,153.0 L213.1,153.6 L213.6,154.2 L214.1,154.8 L214.6,155.4 L215.1,156.0 L215.6,156.5 L216.1,157.0 L216.6,157.5 L217.1,157.9 L217.6,158.3 L218.1,158.6 L218.6,158.9 L219.1,159.1 L219.6,159.3 L220.1,159.5 L220.6,159.6 L221.1,159.8 L221.6,159.9 L222.1,160.0 L222.6,160.1 L223.1,160.3 L223.6,160.4 L224.1,160.6 L224.6,160.8 L225.1,161.2 L225.6,161.6 L226.1,162.0 L226.6,162.4 L227.1,162.9 L227.6,163.6 L228.1,164.5 L228.6,165.5 L229.1,166.7 L229.6,168.3 L230.1,170.2 L230.6,171.9 L231.1,173.6 L231.6,175.2 L232.1,177.0 L232.6,178.8 L233.1,180.7 L233.6,182.6 L234.1,184.5 L234.6,186.5 L235.1,188.4 L235.6,190.4 L236.1,192.3 L236.6,194.3 L237.1,196.2 L237.6,198.2 L238.1,200.2 L238.6,202.3 L239.1,204.3 L239.6,206.5 L240.1,208.6 L240.6,210.6 L241.1,212.6 L241.6,214.5 L242.1,216.3 L242.6,217.9 L243.1,219.5 L243.6,220.8 L244.1,222.1 L244.6,223.4 L245.1,224.5 L245.6,225.7 L246.1,226.8 L246.6,227.8 L247.1,228.8 L247.6,229.9 L248.1,230.8 L248.6,231.8 L249.1,232.7 L249.6,233.6 L250.1,234.6 L250.6,235.5 L251.1,236.4 L251.6,237.3 L252.1,238.1 L252.6,238.8 L253.1,239.5 L253.6,240.2 L254.1,240.7 L254.6,241.2 L255.1,241.7 L255.6,242.1 L256.1,242.6 L256.6,242.9 L257.1,243.3 L257.6,243.6 L258.1,243.9 L258.6,244.2 L259.1,244.5 L259.6,244.7 L260.1,245.0 L260.6,245.2 L261.1,245.4 L261.6,245.6 L262.1,245.8 L262.6,246.0 L263.1,246.1 L263.6,246.3 L264.1,246.5 L264.6,246.6 L265.1,246.8 L265.6,247.0 L266.1,247.1 L266.6,247.3 L267.1,247.5 L267.6,247.6 L268.1,247.8 L268.6,247.8 L269.1,248.0 L269.6,248.1 L270.1,248.2 L270.6,248.3 L271.1,248.4 L271.6,248.4 L272.1,248.6 L272.6,248.6 L273.1,248.8 L273.6,248.8 L274.1,248.9 L274.6,249.0 L275.1,249.0 L275.6,249.0 L276.1,249.0 L276.6,249.1 L277.1,249.3 L277.6,249.2 L278.1,249.5 L278.6,249.4 L279.1,249.5 L279.6,249.4 L280.1,249.6 L280.6,249.6 L281.1,249.5 L281.6,249.7 L282.1,249.7 L282.6,249.7 L283.1,249.6 L283.6,249.6 L284.1,249.7 L284.6,249.8 L285.1,249.6 L285.6,249.9 L286.1,249.8 L286.6,250.0 L287.1,250.0 L287.6,250.2 L288.1,249.9 L288.6,249.7 L289.1,250.2 L289.6,249.8 L290.1,250.0 L290.6,250.0 L291.1,249.9 L291.6,250.3 L292.1,250.3 L292.6,250.1 L293.1,250.2 L293.6,250.1 L294.1,249.9 L294.6,249.9 L295.1,250.2 L295.6,249.8 L296.1,250.1 L296.6,250.4 L297.1,250.3 L297.6,249.8 L298.1,250.0 L298.6,250.1 L299.1,249.9 L299.6,250.2 L300.1,249.9 L300.6,249.9 L301.1,249.9 L301.6,250.2 L302.1,250.1 L302.6,250.0 L303.1,250.3 L303.6,249.9 L304.1,249.9 L304.6,250.4 L305.1,250.1 L305.6,250.0 L306.1,250.0 L306.6,250.4 L307.1,250.2 L307.6,250.2 L308.1,250.0 L308.6,250.0 L309.1,250.2 L309.6,250.4 L310.1,250.2 L310.6,249.9 L311.1,250.2 L311.6,250.1 L312.1,250.3 L312.6,250.4 L313.1,250.2 L313.6,250.1 L314.1,250.3 L314.6,250.4 L315.1,250.1 L315.6,250.2 L316.1,250.3 L316.6,250.3 L317.1,250.0 L317.6,250.1 L318.1,250.1 L318.6,250.3 L319.1,250.2 L319.6,250.4 L320.1,250.3 L320.6,250.0 L321.1,250.2 L321.6,249.9 L322.1,250.3 L322.6,250.0 L323.1,250.3 L323.6,250.3 L324.1,250.0 L324.6,250.2 L325.1,250.4 L325.6,250.1 L326.1,250.0 L326.6,250.2 L327.1,250.2 L327.6,250.3 L328.1,250.0 L328.6,250.1 L329.1,250.3 L329.6,250.1 L330.1,249.9 L330.6,249.7 L331.1,250.1 L331.6,250.2 L332.1,250.1 L332.6,250.1 L333.1,250.2 L333.6,249.9 L334.1,249.7 L334.6,249.8 L335.1,250.0 L335.6,250.0 L336.1,249.8 L336.6,250.2 L337.1,250.2 L337.6,249.7 L338.1,249.8 L338.6,250.1 L339.1,249.7 L339.6,250.1 L340.1,250.2 L340.6,249.8 L341.1,249.7 L341.6,249.9 L342.1,250.2 L342.6,250.0 L343.1,249.7 L343.6,250.1 L344.1,249.7 L344.6,249.7 L345.1,249.9 L345.6,250.0 L346.1,249.6 L346.6,249.7 L347.1,249.7 L347.6,249.8 L348.1,249.9 L348.6,250.0 L349.1,250.1 L349.6,249.8 L350.1,249.9 L350.6,249.9 L351.1,249.6 L351.6,249.8 L352.1,249.6 L352.6,249.9 L353.1,249.8 L353.6,250.1 L354.1,250.1 L354.6,250.2 L355.1,251.0 L355.6,250.3 L356.1,249.6 L356.6,249.8 L357.1,250.0 L357.6,249.8 L358.1,250.1 L358.6,249.8 L359.1,250.1 L359.6,249.7 L360.1,249.7 L360.6,249.7 L361.1,250.0 L361.6,250.0 L362.1,250.1 L362.6,250.2 L363.1,249.9 L363.6,250.0 L364.1,249.8 L364.6,249.7 L365.1,250.0 L365.6,249.8 L366.1,250.0 L366.6,250.1 L367.1,250.0 L367.6,249.7 L368.1,249.8 L368.6,250.1 L369.1,250.0 L369.6,250.2 L370.1,250.0 L370.6,249.9 L371.1,249.7 L371.6,249.9 L372.1,249.7 L372.6,250.1 L373.1,249.7 L373.6,249.8 L374.1,249.8 L374.6,249.8 L375.1,249.7 L375.6,249.7 L376.1,249.7 L376.6,250.1 L377.1,249.7 L377.6,249.7 L378.1,250.0 L378.6,249.8 L379.1,250.0 L379.6,249.9 L380.1,249.7 L380.6,249.7 L381.1,249.7 L381.6,249.7 L382.1,249.9 L382.6,249.8 L383.1,249.9 L383.6,250.0 L384.1,249.7" stroke="#000080"/>
<path d="M43.6,189.9 L44.1,190.9 L44.6,191.9 L45.1,192.9 L45.6,193.9 L46.1,194.8 L46.6,195.7 L47.1,196.7 L47.6,197.6 L48.1,198.4 L48.6,199.3 L49.1,200.1 L49.6,200.9 L50.1,201.7 L50.6,202.5 L51.1,203.2 L51.6,203.9 L52.1,204.6 L52.6,205.3 L53.1,205.9 L53.6,206.5 L54.1,207.1 L54.6,207.7 L55.1,208.2 L55.6,208.7 L56.1,209.1 L56.6,209.5 L57.1,209.9 L57.6,210.3 L58.1,210.6 L58.6,210.8 L59.1,211.0 L59.6,211.2 L60.1,211.4 L60.6,211.5 L61.1,211.6 L61.6,211.7 L62.1,211.7 L62.6,211.7 L63.1,211.7 L63.6,211.6 L64.1,211.6 L64.6,211.5 L65.1,211.3 L65.6,211.2 L66.1,211.0 L66.6,210.8 L67.1,210.6 L67.6,210.4 L68.1,210.1 L68.6,209.9 L69.1,209.6 L69.6,209.3 L70.1,209.0 L70.6,208.7 L71.1,208.4 L71.6,208.0 L72.1,207.7 L72.6,207.3 L73.1,207.0 L73.6,206.6 L74.1,206.3 L74.6,206.0 L75.1,205.6 L75.6,205.3 L76.1,205.0 L76.6,204.7 L77.1,204.5 L77.6,204.2 L78.1,204.0 L78.6,203.9 L79.1,203.8 L79.6,203.7 L80.1,203.7 L80.6,203.7 L81.1,203.7 L81.6,203.7 L82.1,203.9 L82.6,204.2 L83.1,204.5 L83.6,204.9 L84.1,205.4 L84.6,206.0 L85.1,206.9 L85.6,207.8 L86.1,208.8 L86.6,209.8 L87.1,210.9 L87.6,211.9 L88.1,212.8 L88.6,213.6 L89.1,214.3 L89.6,214.8 L90.1,215.4 L90.6,216.1 L91.1,216.9 L91.6,217.7 L92.1,218.4 L92.6,219.2 L93.1,220.0 L93.6,220.8 L94.1,221.5 L94.6,222.3 L95.1,223.0 L95.6,223.7 L96.1,224.4 L96.6,225.2 L97.1,225.9 L97.6,226.6 L98.1,227.2 L98.6,227.7 L99.1,228.2 L99.6,228.5 L100.1,228.8 L100.6,229.1 L101.1,229.3 L101.6,229.6 L102.1,229.8 L102.6,229.9 L103.1,230.1 L103.6,230.2 L104.1,230.3 L104.6,230.4 L105.1,230.5 L105.6,230.6 L106.1,230.7 L106.6,230.8 L107.1,230.8 L107.6,230.8 L108.1,230.8 L108.6,230.7 L109.1,230.7 L109.6,230.7 L110.1,230.6 L110.6,230.6 L111.1,230.5 L111.6,230.5 L112.1,230.4 L112.6,230.3 L113.1,230.3 L113.6,230.2 L114.1,230.1 L114.6,230.0 L115.1,229.8 L115.6,229.7 L116.1,229.6 L116.6,229.4 L117.1,229.2 L117.6,229.0 L118.1,228.8 L118.6,228.5 L119.1,228.3 L119.6,228.1 L120.1,227.9 L120.6,227.7 L121.1,227.5 L121.6,227.3 L122.1,227.1 L122.6,226.9 L123.1,226.7 L123.6,226.5 L124.1,226.3 L124.6,226.2 L125.1,226.0 L125.6,225.8 L126.1,225.6 L126.6,225.5 L127.1,225.4 L127.6,225.3 L128.1,225.2 L128.6,225.1 L129.1,225.0 L129.6,225.0 L130.1,224.9 L130.6,224.9 L131.1,225.0 L131.6,225.0 L132.1,225.1 L132.6,225.2 L133.1,225.3 L133.6,225.4 L134.1,225.5 L134.6,225.7 L135.1,225.8 L135.6,226.0 L136.1,226.1 L136.6,226.3 L137.1,226.4 L137.6,226.5 L138.1,226.7 L138.6,226.8 L139.1,226.9 L139.6,227.1 L140.1,227.2 L140.6,227.3 L141.1,227.4 L141.6,227.5 L142.1,227.7 L142.6,227.8 L143.1,227.9 L143.6,228.0 L144.1,228.1 L144.6,228.2 L145.1,228.3 L145.6,228.4 L146.1,228.4 L146.6,228.5 L147.1,228.5 L147.6,228.5 L148.1,228.5 L148.6,228.4 L149.1,228.3 L149.6,228.3 L150.1,228.2 L150.6,228.1 L151.1,228.0 L151.6,227.9 L152.1,227.7 L152.6,227.6 L153.1,227.4 L153.6,227.1 L154.1,226.9 L154.6,226.7 L155.1,226.5 L155.6,226.3 L156.1,226.0 L156.6,225.8 L157.1,225.5 L157.6,225.3 L158.1,225.0 L158.6,224.7 L159.1,224.4 L159.6,224.1 L160.1,223.8 L160.6,223.5 L161.1,223.1 L161.6,222.8 L162.1,222.4 L162.6,222.0 L163.1,221.7 L163.6,221.3 L164.1,220.9 L164.6,220.6 L165.1,220.2 L165.6,219.9 L166.1,219.6 L166.6,219.2 L167.1,218.8 L167.6,218.4 L168.1,218.0 L168.6,217.6 L169.1,217.1 L169.6,216.6 L170.1,216.1 L170.6,215.6 L171.1,215.1 L171.6,214.6 L172.1,214.0 L172.6,213.5 L173.1,212.9 L173.6,212.3 L174.1,211.7 L174.6,211.1 L175.1,210.5 L175.6,209.8 L176.1,209.2 L176.6,208.5 L177.1,207.9 L177.6,207.2 L178.1,206.5 L178.6,205.8 L179.1,205.1 L179.6,204.4 L180.1,203.6 L180.6,202.9 L181.1,202.2 L181.6,201.4 L182.1,200.6 L182.6,199.8 L183.1,199.0 L183.6,198.1 L184.1,197.3 L184.6,196.4 L185.1,195.6 L185.6,194.8 L186.1,194.0 L186.6,193.2 L187.1,192.4 L187.6,191.6 L188.1,190.9 L188.6,190.1 L189.1,189.4 L189.6,188.7 L190.1,188.0 L190.6,187.4 L191.1,186.7 L191.6,186.1 L192.1,185.4 L192.6,184.8 L193.1,184.2 L193.6,183.6 L194.1,183.0 L194.6,182.3 L195.1,181.7 L195.6,181.1 L196.1,180.4 L196.6,179.8 L197.1,179.2 L197.6,178.5 L198.1,177.9 L198.6,177.3 L199.1,176.6 L199.6,176.0 L200.1,175.3 L200.6,174.5 L201.1,173.8 L201.6,173.0 L202.1,172.3 L202.6,171.5 L203.1,170.8 L203.6,170.1 L204.1,169.4 L204.6,168.7 L205.1,168.1 L205.6,167.5 L206.1,167.0 L206.6,166.7 L207.1,166.4 L207.6,166.2 L208.1,166.1 L208.6,166.0 L209.1,166.0 L209.6,166.0 L210.1,166.1 L210.6,166.3 L211.1,166.6 L211.6,166.9 L212.1,167.3 L212.6,167.7 L213.1,168.2 L213.6,168.7 L214.1,169.2 L214.6,169.7 L215.1,170.2 L215.6,170.7 L216.1,171.1 L216.6,171.5 L217.1,171.9 L217.6,172.2 L218.1,172.4 L218.6,172.7 L219.1,172.9 L219.6,173.1 L220.1,173.2 L220.6,173.3 L221.1,173.4 L221.6,173.5 L222.1,173.6 L222.6,173.8 L223.1,173.9 L223.6,174.0 L224.1,174.2 L224.6,174.4 L225.1,174.7 L225.6,175.0 L226.1,175.3 L226.6,175.7 L227.1,176.1 L227.6,176.7 L228.1,177.4 L228.6,178.3 L229.1,179.4 L229.6,180.7 L230.1,182.3 L230.6,183.8 L231.1,185.1 L231.6,186.6 L232.1,188.1 L232.6,189.6 L233.1,191.2 L233.6,192.9 L234.1,194.5 L234.6,196.1 L235.1,197.8 L235.6,199.4 L236.1,201.1 L236.6,202.8 L237.1,204.4 L237.6,206.1 L238.1,207.8 L238.6,209.5 L239.1,211.3 L239.6,213.1 L240.1,214.9 L240.6,216.6 L241.1,218.3 L241.6,220.0 L242.1,221.5 L242.6,222.9 L243.1,224.2 L243.6,225.3 L244.1,226.4 L244.6,227.5 L245.1,228.5 L245.6,229.4 L246.1,230.4 L246.6,231.3 L247.1,232.1 L247.6,233.0 L248.1,233.8 L248.6,234.6 L249.1,235.4 L249.6,236.2 L250.1,237.0 L250.6,237.8 L251.1,238.6 L251.6,239.3 L252.1,240.0 L252.6,240.6 L253.1,241.2 L253.6,241.7 L254.1,242.2 L254.6,242.7 L255.1,243.1 L255.6,243.4 L256.1,243.8 L256.6,244.1 L257.1,244.4 L257.6,244.7 L258.1,244.9 L258.6,245.2 L259.1,245.4 L259.6,245.6 L260.1,245.9 L260.6,246.0 L261.1,246.2 L261.6,246.4 L262.1,246.5 L262.6,246.7 L263.1,246.8 L263.6,247.0 L264.1,247.1 L264.6,247.3 L265.1,247.4 L265.6,247.5 L266.1,247.7 L266.6,247.8 L267.1,247.9 L267.6,248.1 L268.1,248.2 L268.6,248.3 L269.1,248.4 L269.6,248.5 L270.1,248.5 L270.6,248.7 L271.1,248.7 L271.6,248.8 L272.1,248.9 L272.6,249.0 L273.1,249.0 L273.6,249.1 L274.1,249.3 L274.6,249.2 L275.1,249.2 L275.6,249.3 L276.1,249.3 L276.6,249.4 L277.1,249.6 L277.6,249.5 L278.1,249.6 L278.6,249.5 L279.1,249.6 L279.6,249.6 L280.1,249.7 L280.6,249.9 L281.1,250.0 L281.6,249.8 L282.1,250.1 L282.6,249.9 L283.1,250.0 L283.6,249.8 L284.1,250.1 L284.6,250.1 L285.1,249.9 L285.6,249.8 L286.1,250.1 L286.6,250.2 L287.1,249.9 L287.6,250.4 L288.1,249.9 L288.6,250.5 L289.1,249.9 L289.6,250.4 L290.1,250.5 L290.6,250.1 L291.1,250.0 L291.6,250.3 L292.1,250.6 L292.6,250.1 L293.1,250.6 L293.6,250.3 L294.1,250.2 L294.6,250.5 L295.1,250.5 L295.6,250.3 L296.1,250.6 L296.6,250.5 L297.1,250.4 L297.6,250.2 L298.1,250.7 L298.6,250.8 L299.1,250.6 L299.6,250.8 L300.1,250.3 L300.6,250.4 L301.1,250.7 L301.6,250.7 L302.1,250.3 L302.6,250.2 L303.1,250.7 L303.6,250.3 L304.1,250.6 L304.6,250.2 L305.1,250.6 L305.6,250.5 L306.1,250.7 L306.6,250.9 L307.1,250.6 L307.6,250.7 L308.1,250.3 L308.6,250.4 L309.1,250.4 L309.6,250.9 L310.1,250.3 L310.6,250.4 L311.1,250.4 L311.6,250.9 L312.1,250.8 L312.6,250.6 L313.1,250.6 L313.6,250.3 L314.1,250.7 L314.6,250.5 L315.1,250.5 L315.6,250.3 L316.1,250.5 L316.6,250.7 L317.1,250.7 L317.6,250.3 L318.1,250.6 L318.6,250.5 L319.1,250.7 L319.6,251.0 L320.1,250.5 L320.6,250.7 L321.1,250.5 L321.6,250.6 L322.1,250.6 L322.6,250.6 L323.1,250.4 L323.6,250.4 L324.1,250.8 L324.6,250.6 L325.1,251.0 L325.6,250.7 L326.1,250.9 L326.6,251.0 L327.1,250.5 L327.6,250.7 L328.1,250.7 L328.6,250.6 L329.1,250.7 L329.6,250.6 L330.1,250.4 L330.6,251.0 L331.1,250.7 L331.6,250.6 L332.1,250.5 L332.6,250.5 L333.1,250.8 L333.6,250.3 L334.1,250.3 L334.6,250.9 L335.1,250.6 L335.6,250.6 L336.1,250.6 L336.6,250.5 L337.1,250.7 L337.6,251.0 L338.1,250.7 L338.6,250.5 L339.1,250.9 L339.6,250.8 L340.1,250.4 L340.6,250.8 L341.1,250.4 L341.6,250.6 L342.1,250.7 L342.6,250.5 L343.1,250.9 L343.6,250.4 L344.1,250.4 L344.6,250.6 L345.1,251.0 L345.6,250.5 L346.1,250.4 L346.6,250.5 L347.1,251.0 L347.6,250.8 L348.1,250.9 L348.6,250.6 L349.1,250.8 L349.6,251.0 L350.1,250.9 L350.6,250.5 L351.1,250.5 L351.6,250.9 L352.1,250.6 L352.6,250.6 L353.1,250.9 L353.6,250.7 L354.1,250.6 L354.6,250.6 L355.1,250.5 L355.6,250.9 L356.1,250.9 L356.6,250.6 L357.1,250.8 L357.6,250.6 L358.1,250.6 L358.6,250.6 L359.1,250.8 L359.6,250.6 L360.1,250.4 L360.6,250.9 L361.1,250.7 L361.6,250.8 L362.1,250.5 L362.6,250.8 L363.1,250.5 L363.6,250.4 L364.1,250.3 L364.6,250.6 L365.1,250.6 L365.6,250.5 L366.1,251.0 L366.6,250.5 L367.1,250.4 L367.6,250.9 L368.1,250.8 L368.6,250.8 L369.1,250.8 L369.6,251.0 L370.1,251.0 L370.6,250.7 L371.1,250.5 L371.6,250.8 L372.1,250.8 L372.6,250.6 L373.1,250.9 L373.6,251.0 L374.1,250.3 L374.6,250.6 L375.1,251.0 L375.6,250.9 L376.1,250.5 L376.6,250.3 L377.1,250.7 L377.6,250.9 L378.1,250.9 L378.6,251.0 L379.1,250.4 L379.6,250.5 L380.1,250.6 L380.6,250.4 L381.1,250.5 L381.6,251.0 L382.1,250.8 L382.6,251.0 L383.1,250.7 L383.6,250.4 L384.1,250.5" stroke="#800000"/>
</g>
<g class="axes">
<line x1="43.1" y1="5.2" x2="385.20000000000005" y2="5.2" style="stroke-width:1.3;stroke:#3a3a3a"/>
<line x1="43.1" y1="255.9" x2="385.20000000000005" y2="255.9" style="stroke-width:1.5;stroke:#666"/>
<line x1="43.7" y1="5.2" x2="43.7" y2="255.9" style="stroke-width:1.3"/>
<line x1="384.6" y1="5.2" x2="384.6" y2="255.9" style="stroke-width:1.2"/>
<line x1="38.2" y1="253.75" x2="43.7" y2="253.75"/>
<line x1="41.0" y1="233.03" x2="43.7" y2="233.03"/>
<line x1="38.2" y1="212.32" x2="43.7" y2="212.32"/>
<line x1="41.0" y1="191.60" x2="43.7" y2="191.60"/>
<line x1="38.2" y1="170.88" x2="43.7" y2="170.88"/>
<line x1="41.0" y1="150.17" x2="43.7" y2="150.17"/>
<line x1="38.2" y1="129.45" x2="43.7" y2="129.45"/>
<line x1="41.0" y1="108.73" x2="43.7" y2="108.73"/>
<line x1="38.2" y1="88.02" x2="43.7" y2="88.02"/>
<line x1="41.0" y1="67.30" x2="43.7" y2="67.30"/>
<line x1="38.2" y1="46.58" x2="43.7" y2="46.58"/>
<line x1="41.0" y1="25.87" x2="43.7" y2="25.87"/>
<line x1="38.2" y1="5.15" x2="43.7" y2="5.15"/>
<line x1="43.60" y1="255.9" x2="43.60" y2="261.4"/>
<line x1="77.68" y1="255.9" x2="77.68" y2="258.9"/>
<line x1="111.76" y1="255.9" x2="111.76" y2="261.4"/>
<line x1="145.84" y1="255.9" x2="145.84" y2="258.9"/>
<line x1="179.92" y1="255.9" x2="179.92" y2="261.4"/>
<line x1="214.00" y1="255.9" x2="214.00" y2="258.9"/>
<line x1="248.08" y1="255.9" x2="248.08" y2="261.4"/>
<line x1="282.16" y1="255.9" x2="282.16" y2="258.9"/>
<line x1="316.24" y1="255.9" x2="316.24" y2="261.4"/>
<line x1="350.32" y1="255.9" x2="350.32" y2="258.9"/>
<line x1="384.40" y1="255.9" x2="384.40" y2="261.4"/>
</g>
<g class="tl">
<text transform="translate(35.2,257.15) scale(1,1.04)" text-anchor="end">0.0</text>
<text transform="translate(35.2,216.42) scale(1,1.04)" text-anchor="end">0.2</text>
<text transform="translate(35.2,174.98) scale(1,1.04)" text-anchor="end">0.4</text>
<text transform="translate(35.2,133.55) scale(1,1.04)" text-anchor="end">0.6</text>
<text transform="translate(35.2,92.12) scale(1,1.04)" text-anchor="end">0.8</text>
<text transform="translate(35.2,50.68) scale(1,1.04)" text-anchor="end">1.0</text>
<text transform="translate(35.2,9.25) scale(1,1.04)" text-anchor="end">1.2</text>
<text transform="translate(43.60,274.1) scale(1,1.04)" text-anchor="middle">200</text>
<text transform="translate(111.76,274.1) scale(1,1.04)" text-anchor="middle">300</text>
<text transform="translate(179.92,274.1) scale(1,1.04)" text-anchor="middle">400</text>
<text transform="translate(248.08,274.1) scale(1,1.04)" text-anchor="middle">500</text>
<text transform="translate(316.24,274.1) scale(1,1.04)" text-anchor="middle">600</text>
<text transform="translate(384.40,274.1) scale(1,1.04)" text-anchor="middle">700</text>
</g>
<g class="leg">
<line x1="258.8" y1="59.65" x2="286.8" y2="59.65" stroke="#000000" stroke-width="1.0"/>
<text transform="translate(289.9,63.60) scale(1,1.07)">pure saffron</text>
<line x1="258.8" y1="75.13" x2="286.8" y2="75.13" stroke="#ff0000" stroke-width="1.0"/>
<text transform="translate(289.9,79.08) scale(1,1.07)">95% saffron</text>
<line x1="258.8" y1="90.61" x2="286.8" y2="90.61" stroke="#0000ff" stroke-width="1.0"/>
<text transform="translate(289.9,94.56) scale(1,1.07)">90% saffron</text>
<line x1="258.8" y1="106.09" x2="286.8" y2="106.09" stroke="#008080" stroke-width="1.0"/>
<text transform="translate(289.9,110.04) scale(1,1.07)">80% saffron</text>
<line x1="258.8" y1="121.57" x2="286.8" y2="121.57" stroke="#ff00ff" stroke-width="1.0"/>
<text transform="translate(289.9,125.52) scale(1,1.07)">70% saffron</text>
<line x1="258.8" y1="137.05" x2="286.8" y2="137.05" stroke="#808000" stroke-width="1.0"/>
<text transform="translate(289.9,141.00) scale(1,1.07)">60% saffron</text>
<line x1="258.8" y1="152.53" x2="286.8" y2="152.53" stroke="#000080" stroke-width="1.0"/>
<text transform="translate(289.9,156.48) scale(1,1.07)">50% saffron</text>
<line x1="258.8" y1="168.01" x2="286.8" y2="168.01" stroke="#800000" stroke-width="1.0"/>
<text transform="translate(289.9,171.96) scale(1,1.07)">40% saffron</text>
</g>
<text class="ttl" transform="translate(214.9,292.2) scale(1,1.02)" text-anchor="middle">Wavelength (nm)</text>
<text class="ttl" style="font-size:15.2px;letter-spacing:0.4px" transform="translate(11.7,135.6) rotate(-90)" text-anchor="middle">Absorbance</text>
</svg>
</body></html>
